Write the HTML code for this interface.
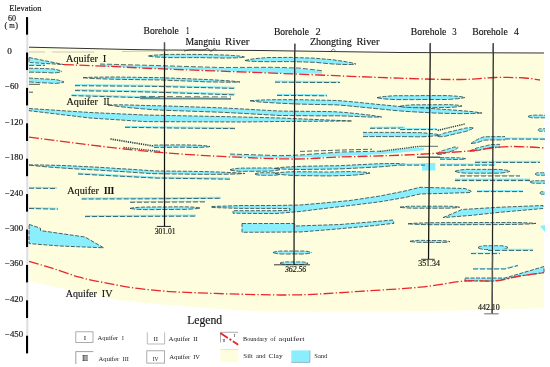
<!DOCTYPE html>
<html><head><meta charset="utf-8"><style>
html,body{margin:0;padding:0;background:#fff;}
svg{display:block;}
text{font-family:"Liberation Serif",serif;fill:#111;stroke:#111;stroke-width:0.15px;}
text.sm{stroke-width:0;fill:#222;}
</style></head><body>
<svg width="550" height="367" viewBox="0 0 550 367">
<rect width="550" height="367" fill="#fff"/>
<path d="M29,47.2 L130,49.5 L165,50 L260,50.5 L295,51 L400,52.5 L544,53 L544.0,308.3 C540.0,308.4 530.7,308.5 520.0,308.8 C509.3,309.1 496.7,309.6 480.0,310.0 C463.3,310.4 440.0,311.0 420.0,311.3 C400.0,311.6 385.0,311.6 360.0,311.6 C335.0,311.6 290.0,311.7 270.0,311.5 C250.0,311.3 250.0,311.0 240.0,310.5 C230.0,310.0 220.0,309.3 210.0,308.5 C200.0,307.7 190.0,306.5 180.0,305.7 C170.0,304.9 160.0,304.4 150.0,303.5 C140.0,302.6 128.3,301.6 120.0,300.3 C111.7,299.0 109.2,297.4 100.0,295.5 C90.8,293.6 74.8,290.9 65.0,289.0 C55.2,287.1 47.0,285.4 41.0,284.0 C35.0,282.6 31.0,281.2 29.0,280.6 Z" fill="#FEFEDE"/>
<polygon points="29.0,57.5 64.0,64.6 29.0,62.5" fill="#8AEEFC"/>
<polygon points="29.0,57.5 64.0,64.6 29.0,62.5" fill="none" stroke="#34484b" stroke-width="0.85" stroke-dasharray="4 1.5"/>
<polygon points="29.0,68.2 30.4,68.3 31.8,68.3 33.1,68.3 34.5,68.4 35.9,68.4 37.3,68.4 38.6,68.4 40.0,68.5 41.4,68.5 42.8,68.5 44.1,68.5 45.5,68.6 46.9,68.7 48.3,68.7 49.6,68.8 51.0,68.9 52.4,69.0 53.8,69.1 55.1,69.3 56.5,69.6 57.9,70.0 59.3,70.3 60.6,70.8 62.0,71.5 62.0,71.5 60.6,72.1 59.3,72.3 57.9,72.5 56.5,72.7 55.1,72.8 53.8,73.0 52.4,72.9 51.0,72.8 49.6,72.7 48.3,72.6 46.9,72.6 45.5,72.5 44.1,72.4 42.8,72.4 41.4,72.4 40.0,72.4 38.6,72.3 37.3,72.3 35.9,72.3 34.5,72.3 33.1,72.2 31.8,72.2 30.4,72.2 29.0,72.2" fill="#8AEEFC"/>
<polyline points="29.0,68.2 30.4,68.3 31.8,68.3 33.1,68.3 34.5,68.4 35.9,68.4 37.3,68.4 38.6,68.4 40.0,68.5 41.4,68.5 42.8,68.5 44.1,68.5 45.5,68.6 46.9,68.7 48.3,68.7 49.6,68.8 51.0,68.9 52.4,69.0 53.8,69.1 55.1,69.3 56.5,69.6 57.9,70.0 59.3,70.3 60.6,70.8 62.0,71.5" fill="none" stroke="#34484b" stroke-width="0.85" stroke-dasharray="4 1.5"/>
<polyline points="29.0,72.2 30.4,72.2 31.8,72.2 33.1,72.2 34.5,72.3 35.9,72.3 37.3,72.3 38.6,72.3 40.0,72.4 41.4,72.4 42.8,72.4 44.1,72.4 45.5,72.5 46.9,72.6 48.3,72.6 49.6,72.7 51.0,72.8 52.4,72.9 53.8,73.0 55.1,72.8 56.5,72.7 57.9,72.5 59.3,72.3 60.6,72.1 62.0,71.5" fill="none" stroke="#34484b" stroke-width="0.85" stroke-dasharray="5 1.5"/>
<polyline points="29.0,64.8 45.0,64.8" fill="none" stroke="#8AEEFC" stroke-width="1.2"/>
<polyline points="29.0,65.4 45.0,65.4" fill="none" stroke="#34484b" stroke-width="0.85" stroke-dasharray="5 2"/>
<line x1="29" y1="84.3" x2="40" y2="84.3" stroke="#34484b" stroke-width="0.9"/>
<line x1="29" y1="92.2" x2="33" y2="92.2" stroke="#34484b" stroke-width="0.9"/>
<polygon points="29.0,78.0 30.5,78.1 31.9,78.2 33.4,78.3 34.8,78.4 36.3,78.5 37.8,78.5 39.2,78.6 40.7,78.7 42.1,78.8 43.6,78.9 45.0,79.0 46.5,79.0 48.0,79.1 49.4,79.2 50.9,79.3 52.3,79.4 53.8,79.5 55.2,79.5 56.7,79.8 58.2,80.1 59.6,80.5 61.1,80.8 62.5,81.3 64.0,82.0 64.0,82.0 62.5,82.6 61.1,82.8 59.6,83.0 58.2,83.2 56.7,83.3 55.2,83.5 53.8,83.4 52.3,83.3 50.9,83.2 49.4,83.1 48.0,83.0 46.5,83.0 45.0,82.9 43.6,82.8 42.1,82.7 40.7,82.6 39.2,82.5 37.8,82.5 36.3,82.4 34.8,82.3 33.4,82.2 31.9,82.1 30.5,82.0 29.0,82.0" fill="#8AEEFC"/>
<polyline points="29.0,78.0 30.5,78.1 31.9,78.2 33.4,78.3 34.8,78.4 36.3,78.5 37.8,78.5 39.2,78.6 40.7,78.7 42.1,78.8 43.6,78.9 45.0,79.0 46.5,79.0 48.0,79.1 49.4,79.2 50.9,79.3 52.3,79.4 53.8,79.5 55.2,79.5 56.7,79.8 58.2,80.1 59.6,80.5 61.1,80.8 62.5,81.3 64.0,82.0" fill="none" stroke="#34484b" stroke-width="0.85" stroke-dasharray="4 1.5"/>
<polyline points="29.0,82.0 30.5,82.0 31.9,82.1 33.4,82.2 34.8,82.3 36.3,82.4 37.8,82.5 39.2,82.5 40.7,82.6 42.1,82.7 43.6,82.8 45.0,82.9 46.5,83.0 48.0,83.0 49.4,83.1 50.9,83.2 52.3,83.3 53.8,83.4 55.2,83.5 56.7,83.3 58.2,83.2 59.6,83.0 61.1,82.8 62.5,82.6 64.0,82.0" fill="none" stroke="#34484b" stroke-width="0.85" stroke-dasharray="5 1.5"/>
<polygon points="83.0,77.7 89.5,77.3 96.1,77.2 102.6,77.1 109.2,77.0 115.7,77.0 122.3,77.1 128.8,77.2 135.4,77.3 141.9,77.4 148.4,77.5 155.0,77.6 161.5,77.7 168.1,78.0 174.6,78.2 181.1,78.5 187.7,78.7 194.2,79.0 200.8,79.3 207.3,79.5 213.8,79.9 220.4,80.3 226.9,80.7 233.5,81.2 240.0,82.0 240.0,82.0 233.5,82.2 226.9,82.2 220.4,82.1 213.8,82.0 207.3,81.9 200.8,81.6 194.2,81.3 187.7,81.1 181.1,80.8 174.6,80.6 168.1,80.3 161.5,80.0 155.0,79.9 148.4,79.8 141.9,79.7 135.4,79.6 128.8,79.5 122.3,79.4 115.7,79.3 109.2,79.1 102.6,78.9 96.1,78.6 89.5,78.3 83.0,77.7" fill="#8AEEFC"/>
<polyline points="83.0,77.7 89.5,77.3 96.1,77.2 102.6,77.1 109.2,77.0 115.7,77.0 122.3,77.1 128.8,77.2 135.4,77.3 141.9,77.4 148.4,77.5 155.0,77.6 161.5,77.7 168.1,78.0 174.6,78.2 181.1,78.5 187.7,78.7 194.2,79.0 200.8,79.3 207.3,79.5 213.8,79.9 220.4,80.3 226.9,80.7 233.5,81.2 240.0,82.0" fill="none" stroke="#34484b" stroke-width="0.85" stroke-dasharray="4 1.5"/>
<polyline points="83.0,77.7 89.5,78.3 96.1,78.6 102.6,78.9 109.2,79.1 115.7,79.3 122.3,79.4 128.8,79.5 135.4,79.6 141.9,79.7 148.4,79.8 155.0,79.9 161.5,80.0 168.1,80.3 174.6,80.6 181.1,80.8 187.7,81.1 194.2,81.3 200.8,81.6 207.3,81.9 213.8,82.0 220.4,82.1 226.9,82.2 233.5,82.2 240.0,82.0" fill="none" stroke="#34484b" stroke-width="0.85" stroke-dasharray="5 1.5"/>
<polyline points="75.0,85.1 150.0,85.7 235.0,87.8" fill="none" stroke="#8AEEFC" stroke-width="2.0"/>
<polyline points="75.0,85.7 150.0,86.3 235.0,88.4" fill="none" stroke="#34484b" stroke-width="0.85" stroke-dasharray="5 2"/>
<polyline points="75.0,90.0 150.0,91.4 235.0,94.3" fill="none" stroke="#8AEEFC" stroke-width="2.0"/>
<polyline points="75.0,90.6 150.0,92.0 235.0,94.9" fill="none" stroke="#34484b" stroke-width="0.85" stroke-dasharray="5 2"/>
<polyline points="71.6,95.0 140.0,97.0 160.0,97.4" fill="none" stroke="#8AEEFC" stroke-width="1.8"/>
<polyline points="71.6,95.6 140.0,97.6 160.0,98.0" fill="none" stroke="#34484b" stroke-width="0.85" stroke-dasharray="5 2"/>
<polyline points="140,98.3 200,98.5 231,98.8" fill="none" stroke="#5f8a8e" stroke-width="1.8"/>
<polyline points="140,96.4 231,96.9" fill="none" stroke="#34484b" stroke-width="0.7" stroke-dasharray="6 3"/>
<polygon points="148.5,56.0 152.5,55.3 156.5,55.0 160.5,54.8 164.5,54.6 168.5,54.4 172.5,54.4 176.5,54.4 180.5,54.4 184.5,54.4 188.5,54.4 192.5,54.4 196.5,54.4 200.5,54.5 204.5,54.5 208.5,54.6 212.5,54.7 216.5,54.8 220.5,54.9 224.5,55.0 228.5,55.2 232.5,55.5 236.5,55.8 240.5,56.2 244.5,57.0 244.5,57.0 240.5,57.6 236.5,57.8 232.5,57.9 228.5,58.0 224.5,58.1 220.5,58.0 216.5,57.9 212.5,57.8 208.5,57.8 204.5,57.7 200.5,57.6 196.5,57.6 192.5,57.6 188.5,57.6 184.5,57.6 180.5,57.6 176.5,57.6 172.5,57.6 168.5,57.6 164.5,57.4 160.5,57.2 156.5,57.0 152.5,56.7 148.5,56.0" fill="#8AEEFC"/>
<polyline points="148.5,56.0 152.5,55.3 156.5,55.0 160.5,54.8 164.5,54.6 168.5,54.4 172.5,54.4 176.5,54.4 180.5,54.4 184.5,54.4 188.5,54.4 192.5,54.4 196.5,54.4 200.5,54.5 204.5,54.5 208.5,54.6 212.5,54.7 216.5,54.8 220.5,54.9 224.5,55.0 228.5,55.2 232.5,55.5 236.5,55.8 240.5,56.2 244.5,57.0" fill="none" stroke="#34484b" stroke-width="0.85" stroke-dasharray="4 1.5"/>
<polyline points="148.5,56.0 152.5,56.7 156.5,57.0 160.5,57.2 164.5,57.4 168.5,57.6 172.5,57.6 176.5,57.6 180.5,57.6 184.5,57.6 188.5,57.6 192.5,57.6 196.5,57.6 200.5,57.6 204.5,57.7 208.5,57.8 212.5,57.8 216.5,57.9 220.5,58.0 224.5,58.1 228.5,58.0 232.5,57.9 236.5,57.8 240.5,57.6 244.5,57.0" fill="none" stroke="#34484b" stroke-width="0.85" stroke-dasharray="5 1.5"/>
<polygon points="245.0,60.5 249.6,59.4 254.3,58.8 258.9,58.3 263.5,57.9 268.1,57.5 272.8,57.5 277.4,57.5 282.0,57.5 286.7,57.4 291.3,57.4 295.9,57.6 300.6,57.7 305.2,57.9 309.8,58.0 314.5,58.2 319.1,58.6 323.7,59.0 328.3,59.4 332.9,59.8 337.5,60.5 342.2,61.1 346.8,61.9 351.4,62.7 356.0,64.0 356.0,64.0 351.4,64.5 346.8,64.5 342.2,64.4 337.5,64.2 332.9,64.0 328.3,63.6 323.7,63.2 319.1,62.7 314.5,62.3 309.8,62.2 305.2,62.0 300.6,61.9 295.9,61.7 291.3,61.6 286.7,61.6 282.0,61.6 277.4,61.6 272.8,61.7 268.1,61.7 263.5,61.6 258.9,61.6 254.3,61.4 249.6,61.2 245.0,60.5" fill="#8AEEFC"/>
<polyline points="245.0,60.5 249.6,59.4 254.3,58.8 258.9,58.3 263.5,57.9 268.1,57.5 272.8,57.5 277.4,57.5 282.0,57.5 286.7,57.4 291.3,57.4 295.9,57.6 300.6,57.7 305.2,57.9 309.8,58.0 314.5,58.2 319.1,58.6 323.7,59.0 328.3,59.4 332.9,59.8 337.5,60.5 342.2,61.1 346.8,61.9 351.4,62.7 356.0,64.0" fill="none" stroke="#34484b" stroke-width="0.85" stroke-dasharray="4 1.5"/>
<polyline points="245.0,60.5 249.6,61.2 254.3,61.4 258.9,61.6 263.5,61.6 268.1,61.7 272.8,61.7 277.4,61.6 282.0,61.6 286.7,61.6 291.3,61.6 295.9,61.7 300.6,61.9 305.2,62.0 309.8,62.2 314.5,62.3 319.1,62.7 323.7,63.2 328.3,63.6 332.9,64.0 337.5,64.2 342.2,64.4 346.8,64.5 351.4,64.5 356.0,64.0" fill="none" stroke="#34484b" stroke-width="0.85" stroke-dasharray="5 1.5"/>
<polygon points="100.0,64.2 155.0,65.8 220.0,67.8 275.0,67.6 300.0,68.4 322.0,71.0 322.0,73.8 280.0,73.2 220.0,70.8 155.0,68.4 100.0,66.3" fill="#8AEEFC"/>
<polyline points="100,64 155,65.5 220,67.5 275,67.3 300,68.1 322,70.7" fill="none" stroke="#34484b" stroke-width="0.8" stroke-dasharray="5 2"/>
<polyline points="275.0,81.6 340.0,82.0" fill="none" stroke="#8AEEFC" stroke-width="2.0"/>
<polyline points="275.0,82.2 340.0,82.6" fill="none" stroke="#34484b" stroke-width="0.85" stroke-dasharray="5 2"/>
<polyline points="277.0,94.8 327.0,95.2" fill="none" stroke="#8AEEFC" stroke-width="2.0"/>
<polyline points="277.0,95.4 327.0,95.8" fill="none" stroke="#34484b" stroke-width="0.85" stroke-dasharray="5 2"/>
<polygon points="250.0,100.8 259.7,100.1 269.4,99.8 279.0,99.7 288.7,99.7 298.4,99.7 308.1,99.9 317.8,100.1 327.5,100.3 337.1,100.5 346.8,101.3 356.4,102.2 366.1,103.2 375.7,104.2 385.3,105.1 395.0,106.1 404.6,106.9 414.3,107.4 424.0,108.0 433.6,108.6 443.3,109.4 453.0,110.0 462.6,110.8 472.3,111.6 482.0,113.0 482.0,113.0 472.3,113.5 462.6,113.6 453.0,113.5 443.3,113.3 433.6,113.0 424.0,112.4 414.3,111.9 404.6,111.3 395.0,110.5 385.3,109.5 375.7,108.6 366.1,107.6 356.4,106.7 346.8,105.7 337.1,104.9 327.5,104.7 317.8,104.5 308.1,104.3 298.4,104.1 288.7,103.6 279.0,103.2 269.4,102.6 259.7,102.0 250.0,100.8" fill="#8AEEFC"/>
<polyline points="250.0,100.8 259.7,100.1 269.4,99.8 279.0,99.7 288.7,99.7 298.4,99.7 308.1,99.9 317.8,100.1 327.5,100.3 337.1,100.5 346.8,101.3 356.4,102.2 366.1,103.2 375.7,104.2 385.3,105.1 395.0,106.1 404.6,106.9 414.3,107.4 424.0,108.0 433.6,108.6 443.3,109.4 453.0,110.0 462.6,110.8 472.3,111.6 482.0,113.0" fill="none" stroke="#34484b" stroke-width="0.85" stroke-dasharray="4 1.5"/>
<polyline points="250.0,100.8 259.7,102.0 269.4,102.6 279.0,103.2 288.7,103.6 298.4,104.1 308.1,104.3 317.8,104.5 327.5,104.7 337.1,104.9 346.8,105.7 356.4,106.7 366.1,107.6 375.7,108.6 385.3,109.5 395.0,110.5 404.6,111.3 414.3,111.9 424.0,112.4 433.6,113.0 443.3,113.3 453.0,113.5 462.6,113.6 472.3,113.5 482.0,113.0" fill="none" stroke="#34484b" stroke-width="0.85" stroke-dasharray="5 1.5"/>
<polygon points="377.0,97.7 380.7,96.9 384.3,96.5 388.0,96.2 391.7,95.9 395.3,95.7 399.0,95.7 402.7,95.7 406.3,95.7 410.0,95.7 413.7,95.7 417.3,95.7 421.0,95.6 424.7,95.6 428.3,95.6 432.0,95.6 435.7,95.6 439.3,95.6 443.0,95.6 446.7,95.6 450.3,95.8 454.0,96.0 457.7,96.3 461.3,96.7 465.0,97.5 465.0,97.5 461.3,98.3 457.7,98.7 454.0,99.0 450.3,99.3 446.7,99.5 443.0,99.5 439.3,99.5 435.7,99.5 432.0,99.5 428.3,99.5 424.7,99.5 421.0,99.5 417.3,99.6 413.7,99.6 410.0,99.6 406.3,99.6 402.7,99.6 399.0,99.6 395.3,99.6 391.7,99.4 388.0,99.2 384.3,98.9 380.7,98.5 377.0,97.7" fill="#8AEEFC"/>
<polyline points="377.0,97.7 380.7,96.9 384.3,96.5 388.0,96.2 391.7,95.9 395.3,95.7 399.0,95.7 402.7,95.7 406.3,95.7 410.0,95.7 413.7,95.7 417.3,95.7 421.0,95.6 424.7,95.6 428.3,95.6 432.0,95.6 435.7,95.6 439.3,95.6 443.0,95.6 446.7,95.6 450.3,95.8 454.0,96.0 457.7,96.3 461.3,96.7 465.0,97.5" fill="none" stroke="#34484b" stroke-width="0.85" stroke-dasharray="4 1.5"/>
<polyline points="377.0,97.7 380.7,98.5 384.3,98.9 388.0,99.2 391.7,99.4 395.3,99.6 399.0,99.6 402.7,99.6 406.3,99.6 410.0,99.6 413.7,99.6 417.3,99.6 421.0,99.5 424.7,99.5 428.3,99.5 432.0,99.5 435.7,99.5 439.3,99.5 443.0,99.5 446.7,99.5 450.3,99.3 454.0,99.0 457.7,98.7 461.3,98.3 465.0,97.5" fill="none" stroke="#34484b" stroke-width="0.85" stroke-dasharray="5 1.5"/>
<polygon points="400.0,106.3 402.6,105.7 405.2,105.4 407.8,105.2 410.3,105.0 412.9,104.8 415.5,104.8 418.1,104.8 420.7,104.8 423.2,104.8 425.8,104.7 428.4,104.7 431.0,104.7 433.6,104.7 436.2,104.7 438.8,104.7 441.3,104.7 443.9,104.7 446.5,104.6 449.1,104.6 451.7,104.8 454.2,104.9 456.8,105.1 459.4,105.4 462.0,106.0 462.0,106.0 459.4,106.6 456.8,106.9 454.2,107.1 451.7,107.3 449.1,107.5 446.5,107.5 443.9,107.5 441.3,107.5 438.8,107.5 436.2,107.6 433.6,107.6 431.0,107.6 428.4,107.6 425.8,107.6 423.2,107.6 420.7,107.6 418.1,107.6 415.5,107.7 412.9,107.7 410.3,107.5 407.8,107.4 405.2,107.2 402.6,106.9 400.0,106.3" fill="#8AEEFC"/>
<polyline points="400.0,106.3 402.6,105.7 405.2,105.4 407.8,105.2 410.3,105.0 412.9,104.8 415.5,104.8 418.1,104.8 420.7,104.8 423.2,104.8 425.8,104.7 428.4,104.7 431.0,104.7 433.6,104.7 436.2,104.7 438.8,104.7 441.3,104.7 443.9,104.7 446.5,104.6 449.1,104.6 451.7,104.8 454.2,104.9 456.8,105.1 459.4,105.4 462.0,106.0" fill="none" stroke="#34484b" stroke-width="0.85" stroke-dasharray="4 1.5"/>
<polyline points="400.0,106.3 402.6,106.9 405.2,107.2 407.8,107.4 410.3,107.5 412.9,107.7 415.5,107.7 418.1,107.6 420.7,107.6 423.2,107.6 425.8,107.6 428.4,107.6 431.0,107.6 433.6,107.6 436.2,107.6 438.8,107.5 441.3,107.5 443.9,107.5 446.5,107.5 449.1,107.5 451.7,107.3 454.2,107.1 456.8,106.9 459.4,106.6 462.0,106.0" fill="none" stroke="#34484b" stroke-width="0.85" stroke-dasharray="5 1.5"/>
<polygon points="108.0,105.0 119.4,104.8 130.8,105.0 142.2,105.4 153.6,105.7 165.1,105.9 176.5,106.3 187.9,106.7 199.3,107.1 210.8,107.5 222.2,107.9 233.6,108.5 245.0,109.1 256.4,109.8 267.8,110.4 279.2,111.0 290.7,111.2 302.1,111.3 313.5,111.4 325.0,111.5 336.4,111.8 347.8,112.7 359.2,113.9 370.6,115.2 382.0,117.0 382.0,117.0 370.6,117.1 359.2,116.6 347.8,116.1 336.4,115.8 325.0,115.9 313.5,115.8 302.1,115.7 290.7,115.6 279.2,115.5 267.8,114.8 256.4,114.2 245.0,113.5 233.6,112.9 222.2,112.3 210.8,111.9 199.3,111.5 187.9,111.1 176.5,110.7 165.1,110.3 153.6,109.7 142.2,108.8 130.8,107.8 119.4,106.6 108.0,105.0" fill="#8AEEFC"/>
<polyline points="108.0,105.0 119.4,104.8 130.8,105.0 142.2,105.4 153.6,105.7 165.1,105.9 176.5,106.3 187.9,106.7 199.3,107.1 210.8,107.5 222.2,107.9 233.6,108.5 245.0,109.1 256.4,109.8 267.8,110.4 279.2,111.0 290.7,111.2 302.1,111.3 313.5,111.4 325.0,111.5 336.4,111.8 347.8,112.7 359.2,113.9 370.6,115.2 382.0,117.0" fill="none" stroke="#34484b" stroke-width="0.85" stroke-dasharray="4 1.5"/>
<polyline points="108.0,105.0 119.4,106.6 130.8,107.8 142.2,108.8 153.6,109.7 165.1,110.3 176.5,110.7 187.9,111.1 199.3,111.5 210.8,111.9 222.2,112.3 233.6,112.9 245.0,113.5 256.4,114.2 267.8,114.8 279.2,115.5 290.7,115.6 302.1,115.7 313.5,115.8 325.0,115.9 336.4,115.8 347.8,116.1 359.2,116.6 370.6,117.1 382.0,117.0" fill="none" stroke="#34484b" stroke-width="0.85" stroke-dasharray="5 1.5"/>
<polygon points="29.0,108.5 90.0,112.5 145.0,115.0 242.0,117.0 280.0,118.0 352.0,121.0 280.0,121.5 242.0,122.0 145.0,121.6 90.0,118.0 29.0,110.7" fill="#8AEEFC"/>
<polygon points="29.0,108.5 90.0,112.5 145.0,115.0 242.0,117.0 280.0,118.0 352.0,121.0 280.0,121.5 242.0,122.0 145.0,121.6 90.0,118.0 29.0,110.7" fill="none" stroke="#34484b" stroke-width="0.85" stroke-dasharray="4 1.5"/>
<polygon points="528.0,116.5 528.7,116.1 529.4,115.8 530.1,115.6 530.8,115.5 531.5,115.3 532.2,115.2 533.0,115.2 533.7,115.2 534.4,115.2 535.1,115.2 535.8,115.2 536.5,115.2 537.2,115.2 537.9,115.2 538.6,115.2 539.3,115.2 540.0,115.2 540.8,115.2 541.5,115.2 542.2,115.2 542.9,115.2 543.6,115.2 544.3,115.2 545.0,115.2 545.0,117.8 544.3,117.8 543.6,117.8 542.9,117.8 542.2,117.8 541.5,117.8 540.8,117.8 540.0,117.8 539.3,117.8 538.6,117.8 537.9,117.8 537.2,117.8 536.5,117.8 535.8,117.8 535.1,117.8 534.4,117.8 533.7,117.8 533.0,117.8 532.2,117.8 531.5,117.7 530.8,117.5 530.1,117.4 529.4,117.2 528.7,116.9 528.0,116.5" fill="#8AEEFC"/>
<polyline points="528.0,116.5 528.7,116.1 529.4,115.8 530.1,115.6 530.8,115.5 531.5,115.3 532.2,115.2 533.0,115.2 533.7,115.2 534.4,115.2 535.1,115.2 535.8,115.2 536.5,115.2 537.2,115.2 537.9,115.2 538.6,115.2 539.3,115.2 540.0,115.2 540.8,115.2 541.5,115.2 542.2,115.2 542.9,115.2 543.6,115.2 544.3,115.2 545.0,115.2" fill="none" stroke="#34484b" stroke-width="0.85" stroke-dasharray="4 1.5"/>
<polyline points="528.0,116.5 528.7,116.9 529.4,117.2 530.1,117.4 530.8,117.5 531.5,117.7 532.2,117.8 533.0,117.8 533.7,117.8 534.4,117.8 535.1,117.8 535.8,117.8 536.5,117.8 537.2,117.8 537.9,117.8 538.6,117.8 539.3,117.8 540.0,117.8 540.8,117.8 541.5,117.8 542.2,117.8 542.9,117.8 543.6,117.8 544.3,117.8 545.0,117.8" fill="none" stroke="#34484b" stroke-width="0.85" stroke-dasharray="5 1.5"/>
<polyline points="125.0,126.7 180.0,127.5 235.0,128.0" fill="none" stroke="#8AEEFC" stroke-width="2.0"/>
<polyline points="125.0,127.3 180.0,128.1 235.0,128.6" fill="none" stroke="#34484b" stroke-width="0.85" stroke-dasharray="5 2"/>
<polyline points="110.4,139 157,146.6" fill="none" stroke="#34484b" stroke-width="1.7" stroke-dasharray="1.3 0.9"/>
<polygon points="154.0,145.1 156.3,145.1 158.7,145.1 161.0,145.0 163.3,145.0 165.7,145.0 168.0,145.0 170.3,144.9 172.7,144.9 175.0,144.9 177.3,144.9 179.7,144.8 182.0,144.9 184.3,144.9 186.7,144.9 189.0,145.0 191.3,145.0 193.7,145.1 196.0,145.1 198.3,145.3 200.7,145.4 203.0,145.6 205.3,145.8 207.7,146.1 210.0,146.5 210.0,146.5 207.7,146.9 205.3,147.0 203.0,147.2 200.7,147.3 198.3,147.4 196.0,147.4 193.7,147.4 191.3,147.4 189.0,147.3 186.7,147.3 184.3,147.2 182.0,147.2 179.7,147.2 177.3,147.2 175.0,147.2 172.7,147.3 170.3,147.3 168.0,147.3 165.7,147.3 163.3,147.4 161.0,147.4 158.7,147.4 156.3,147.4 154.0,147.5" fill="#8AEEFC"/>
<polyline points="154.0,145.1 156.3,145.1 158.7,145.1 161.0,145.0 163.3,145.0 165.7,145.0 168.0,145.0 170.3,144.9 172.7,144.9 175.0,144.9 177.3,144.9 179.7,144.8 182.0,144.9 184.3,144.9 186.7,144.9 189.0,145.0 191.3,145.0 193.7,145.1 196.0,145.1 198.3,145.3 200.7,145.4 203.0,145.6 205.3,145.8 207.7,146.1 210.0,146.5" fill="none" stroke="#34484b" stroke-width="0.85" stroke-dasharray="4 1.5"/>
<polyline points="154.0,147.5 156.3,147.4 158.7,147.4 161.0,147.4 163.3,147.4 165.7,147.3 168.0,147.3 170.3,147.3 172.7,147.3 175.0,147.2 177.3,147.2 179.7,147.2 182.0,147.2 184.3,147.2 186.7,147.3 189.0,147.3 191.3,147.4 193.7,147.4 196.0,147.4 198.3,147.4 200.7,147.3 203.0,147.2 205.3,147.0 207.7,146.9 210.0,146.5" fill="none" stroke="#34484b" stroke-width="0.85" stroke-dasharray="5 1.5"/>
<polyline points="123.5,147.4 160,151.4" fill="none" stroke="#34484b" stroke-width="1.3" stroke-dasharray="1.3 0.9"/>
<polygon points="29.0,165.0 38.0,164.9 47.0,165.1 56.0,165.3 65.0,165.6 74.0,166.0 83.0,166.5 92.0,166.9 101.0,167.4 110.0,168.0 119.0,168.6 127.9,169.1 136.9,169.7 145.9,170.3 154.9,170.9 163.9,171.0 172.9,171.1 181.9,171.2 190.9,171.3 200.0,171.5 209.0,171.7 218.0,172.0 227.0,172.4 236.0,172.8 245.0,173.5 245.0,173.5 236.0,174.0 227.0,174.2 218.0,174.3 209.0,174.3 200.0,174.3 190.9,174.2 181.9,174.1 172.9,174.0 163.9,173.8 154.9,173.7 145.9,173.2 136.9,172.6 127.9,172.0 119.0,171.4 110.0,170.9 101.0,170.3 92.0,169.8 83.0,169.3 74.0,168.8 65.0,168.2 56.0,167.6 47.0,166.9 38.0,166.1 29.0,165.0" fill="#8AEEFC"/>
<polyline points="29.0,165.0 38.0,164.9 47.0,165.1 56.0,165.3 65.0,165.6 74.0,166.0 83.0,166.5 92.0,166.9 101.0,167.4 110.0,168.0 119.0,168.6 127.9,169.1 136.9,169.7 145.9,170.3 154.9,170.9 163.9,171.0 172.9,171.1 181.9,171.2 190.9,171.3 200.0,171.5 209.0,171.7 218.0,172.0 227.0,172.4 236.0,172.8 245.0,173.5" fill="none" stroke="#34484b" stroke-width="0.85" stroke-dasharray="4 1.5"/>
<polyline points="29.0,165.0 38.0,166.1 47.0,166.9 56.0,167.6 65.0,168.2 74.0,168.8 83.0,169.3 92.0,169.8 101.0,170.3 110.0,170.9 119.0,171.4 127.9,172.0 136.9,172.6 145.9,173.2 154.9,173.7 163.9,173.8 172.9,174.0 181.9,174.1 190.9,174.2 200.0,174.3 209.0,174.3 218.0,174.3 227.0,174.2 236.0,174.0 245.0,173.5" fill="none" stroke="#34484b" stroke-width="0.85" stroke-dasharray="5 1.5"/>
<polyline points="78.0,173.4 155.0,177.4 230.0,178.6" fill="none" stroke="#8AEEFC" stroke-width="2.0"/>
<polyline points="78.0,174.0 155.0,178.0 230.0,179.2" fill="none" stroke="#34484b" stroke-width="0.85" stroke-dasharray="5 2"/>
<polygon points="230.0,154.3 280.0,156.0 300.0,155.3 340.0,152.3 380.0,151.4 419.0,147.6 424.0,147.8 424.0,150.3 400.0,152.6 380.0,154.2 340.0,156.2 280.0,158.3 230.0,156.3" fill="#8AEEFC"/>
<polyline points="230,154 280,155.7 300,155 340,152 380,151.2" fill="none" stroke="#34484b" stroke-width="0.85" stroke-dasharray="5 2"/>
<polyline points="380,151.4 419,146.4" fill="none" stroke="#34484b" stroke-width="1.4" stroke-dasharray="1.3 0.9"/>
<polyline points="419,146.3 438,146.3" fill="none" stroke="#34484b" stroke-width="0.8"/>
<polyline points="300.0,151.4 340.0,150.1 372.0,149.2" fill="none" stroke="#34484b" stroke-width="0.85" stroke-dasharray="5 2"/>
<polygon points="230.0,169.8 232.1,169.1 234.2,168.8 236.2,168.5 238.3,168.3 240.4,168.1 242.5,168.1 244.6,168.1 246.7,168.1 248.8,168.1 250.8,168.1 252.9,168.0 255.0,168.0 257.1,168.0 259.2,168.0 261.2,168.0 263.3,168.0 265.4,168.0 267.5,167.9 269.6,167.9 271.7,168.1 273.8,168.3 275.8,168.5 277.9,168.8 280.0,169.5 280.0,169.5 277.9,170.2 275.8,170.5 273.8,170.8 271.7,171.0 269.6,171.2 267.5,171.2 265.4,171.2 263.3,171.2 261.2,171.2 259.2,171.2 257.1,171.3 255.0,171.3 252.9,171.3 250.8,171.3 248.8,171.3 246.7,171.3 244.6,171.3 242.5,171.4 240.4,171.4 238.3,171.2 236.2,171.0 234.2,170.8 232.1,170.5 230.0,169.8" fill="#8AEEFC"/>
<polyline points="230.0,169.8 232.1,169.1 234.2,168.8 236.2,168.5 238.3,168.3 240.4,168.1 242.5,168.1 244.6,168.1 246.7,168.1 248.8,168.1 250.8,168.1 252.9,168.0 255.0,168.0 257.1,168.0 259.2,168.0 261.2,168.0 263.3,168.0 265.4,168.0 267.5,167.9 269.6,167.9 271.7,168.1 273.8,168.3 275.8,168.5 277.9,168.8 280.0,169.5" fill="none" stroke="#34484b" stroke-width="0.85" stroke-dasharray="4 1.5"/>
<polyline points="230.0,169.8 232.1,170.5 234.2,170.8 236.2,171.0 238.3,171.2 240.4,171.4 242.5,171.4 244.6,171.3 246.7,171.3 248.8,171.3 250.8,171.3 252.9,171.3 255.0,171.3 257.1,171.3 259.2,171.2 261.2,171.2 263.3,171.2 265.4,171.2 267.5,171.2 269.6,171.2 271.7,171.0 273.8,170.8 275.8,170.5 277.9,170.2 280.0,169.5" fill="none" stroke="#34484b" stroke-width="0.85" stroke-dasharray="5 1.5"/>
<polygon points="255.0,174.0 256.0,173.4 257.1,173.2 258.1,173.0 259.2,172.8 260.2,172.7 261.2,172.7 262.3,172.7 263.3,172.7 264.4,172.7 265.4,172.7 266.5,172.7 267.5,172.7 268.5,172.7 269.6,172.7 270.6,172.7 271.7,172.7 272.7,172.7 273.8,172.7 274.8,172.7 275.8,172.8 276.9,173.0 277.9,173.2 279.0,173.4 280.0,174.0 280.0,174.0 279.0,174.6 277.9,174.8 276.9,175.0 275.8,175.2 274.8,175.3 273.8,175.3 272.7,175.3 271.7,175.3 270.6,175.3 269.6,175.3 268.5,175.3 267.5,175.3 266.5,175.3 265.4,175.3 264.4,175.3 263.3,175.3 262.3,175.3 261.2,175.3 260.2,175.3 259.2,175.2 258.1,175.0 257.1,174.8 256.0,174.6 255.0,174.0" fill="#8AEEFC"/>
<polyline points="255.0,174.0 256.0,173.4 257.1,173.2 258.1,173.0 259.2,172.8 260.2,172.7 261.2,172.7 262.3,172.7 263.3,172.7 264.4,172.7 265.4,172.7 266.5,172.7 267.5,172.7 268.5,172.7 269.6,172.7 270.6,172.7 271.7,172.7 272.7,172.7 273.8,172.7 274.8,172.7 275.8,172.8 276.9,173.0 277.9,173.2 279.0,173.4 280.0,174.0" fill="none" stroke="#34484b" stroke-width="0.85" stroke-dasharray="4 1.5"/>
<polyline points="255.0,174.0 256.0,174.6 257.1,174.8 258.1,175.0 259.2,175.2 260.2,175.3 261.2,175.3 262.3,175.3 263.3,175.3 264.4,175.3 265.4,175.3 266.5,175.3 267.5,175.3 268.5,175.3 269.6,175.3 270.6,175.3 271.7,175.3 272.7,175.3 273.8,175.3 274.8,175.3 275.8,175.2 276.9,175.0 277.9,174.8 279.0,174.6 280.0,174.0" fill="none" stroke="#34484b" stroke-width="0.85" stroke-dasharray="5 1.5"/>
<polyline points="370.0,127.7 405.0,127.5" fill="none" stroke="#8AEEFC" stroke-width="2.0"/>
<polyline points="370.0,128.3 405.0,128.1" fill="none" stroke="#34484b" stroke-width="0.85" stroke-dasharray="5 2"/>
<polygon points="363.0,132.4 366.2,132.4 369.4,132.4 372.6,132.4 375.8,132.4 379.0,132.4 382.3,132.4 385.5,132.4 388.7,132.4 391.9,132.4 395.1,132.4 398.3,132.4 401.5,132.4 404.7,132.5 407.9,132.5 411.1,132.6 414.3,132.6 417.5,132.6 420.8,132.7 424.0,132.9 427.2,133.2 430.4,133.5 433.6,133.8 436.8,134.3 440.0,135.0 440.0,135.0 436.8,135.7 433.6,136.0 430.4,136.3 427.2,136.5 424.0,136.7 420.8,136.8 417.5,136.8 414.3,136.8 411.1,136.7 407.9,136.7 404.7,136.6 401.5,136.6 398.3,136.6 395.1,136.6 391.9,136.6 388.7,136.6 385.5,136.6 382.3,136.6 379.0,136.6 375.8,136.6 372.6,136.6 369.4,136.6 366.2,136.6 363.0,136.6" fill="#8AEEFC"/>
<polyline points="363.0,132.4 366.2,132.4 369.4,132.4 372.6,132.4 375.8,132.4 379.0,132.4 382.3,132.4 385.5,132.4 388.7,132.4 391.9,132.4 395.1,132.4 398.3,132.4 401.5,132.4 404.7,132.5 407.9,132.5 411.1,132.6 414.3,132.6 417.5,132.6 420.8,132.7 424.0,132.9 427.2,133.2 430.4,133.5 433.6,133.8 436.8,134.3 440.0,135.0" fill="none" stroke="#34484b" stroke-width="0.85" stroke-dasharray="4 1.5"/>
<polyline points="363.0,136.6 366.2,136.6 369.4,136.6 372.6,136.6 375.8,136.6 379.0,136.6 382.3,136.6 385.5,136.6 388.7,136.6 391.9,136.6 395.1,136.6 398.3,136.6 401.5,136.6 404.7,136.6 407.9,136.7 411.1,136.7 414.3,136.8 417.5,136.8 420.8,136.8 424.0,136.7 427.2,136.5 430.4,136.3 433.6,136.0 436.8,135.7 440.0,135.0" fill="none" stroke="#34484b" stroke-width="0.85" stroke-dasharray="5 1.5"/>
<polygon points="275.0,168.3 280.4,167.5 285.8,167.1 291.3,166.8 296.7,166.5 302.1,166.3 307.5,166.2 312.9,166.1 318.4,166.0 323.8,165.9 329.2,165.8 334.6,165.8 340.0,165.7 345.5,165.4 350.9,165.1 356.3,164.8 361.7,164.6 367.1,164.3 372.5,164.0 377.9,163.8 383.3,163.6 388.8,163.6 394.2,163.5 399.6,163.6 405.0,164.0 405.0,164.0 399.6,165.0 394.2,165.6 388.8,166.1 383.3,166.6 377.9,167.0 372.5,167.3 367.1,167.5 361.7,167.8 356.3,168.1 350.9,168.4 345.5,168.6 340.0,168.9 334.6,169.0 329.2,169.1 323.8,169.2 318.4,169.3 312.9,169.3 307.5,169.4 302.1,169.5 296.7,169.4 291.3,169.3 285.8,169.2 280.4,168.9 275.0,168.3" fill="#8AEEFC"/>
<polyline points="275.0,168.3 280.4,167.5 285.8,167.1 291.3,166.8 296.7,166.5 302.1,166.3 307.5,166.2 312.9,166.1 318.4,166.0 323.8,165.9 329.2,165.8 334.6,165.8 340.0,165.7 345.5,165.4 350.9,165.1 356.3,164.8 361.7,164.6 367.1,164.3 372.5,164.0 377.9,163.8 383.3,163.6 388.8,163.6 394.2,163.5 399.6,163.6 405.0,164.0" fill="none" stroke="#34484b" stroke-width="0.85" stroke-dasharray="4 1.5"/>
<polyline points="275.0,168.3 280.4,168.9 285.8,169.2 291.3,169.3 296.7,169.4 302.1,169.5 307.5,169.4 312.9,169.3 318.4,169.3 323.8,169.2 329.2,169.1 334.6,169.0 340.0,168.9 345.5,168.6 350.9,168.4 356.3,168.1 361.7,167.8 367.1,167.5 372.5,167.3 377.9,167.0 383.3,166.6 388.8,166.1 394.2,165.6 399.6,165.0 405.0,164.0" fill="none" stroke="#34484b" stroke-width="0.85" stroke-dasharray="5 1.5"/>
<polygon points="275.0,173.4 279.0,172.6 282.9,172.3 286.9,172.0 290.8,171.8 294.8,171.7 298.8,171.7 302.7,171.8 306.7,171.8 310.6,171.8 314.6,171.9 318.5,171.9 322.5,172.0 326.5,172.0 330.4,172.0 334.4,171.9 338.3,171.8 342.3,171.7 346.3,171.6 350.2,171.6 354.2,171.6 358.1,171.8 362.1,172.0 366.0,172.3 370.0,173.0 370.0,173.0 366.0,173.9 362.1,174.4 358.1,174.8 354.2,175.1 350.2,175.4 346.3,175.5 342.3,175.6 338.3,175.7 334.4,175.8 330.4,175.9 326.5,175.9 322.5,175.9 318.5,175.8 314.6,175.8 310.6,175.7 306.7,175.7 302.7,175.7 298.8,175.6 294.8,175.6 290.8,175.3 286.9,175.0 282.9,174.7 279.0,174.3 275.0,173.4" fill="#8AEEFC"/>
<polyline points="275.0,173.4 279.0,172.6 282.9,172.3 286.9,172.0 290.8,171.8 294.8,171.7 298.8,171.7 302.7,171.8 306.7,171.8 310.6,171.8 314.6,171.9 318.5,171.9 322.5,172.0 326.5,172.0 330.4,172.0 334.4,171.9 338.3,171.8 342.3,171.7 346.3,171.6 350.2,171.6 354.2,171.6 358.1,171.8 362.1,172.0 366.0,172.3 370.0,173.0" fill="none" stroke="#34484b" stroke-width="0.85" stroke-dasharray="4 1.5"/>
<polyline points="275.0,173.4 279.0,174.3 282.9,174.7 286.9,175.0 290.8,175.3 294.8,175.6 298.8,175.6 302.7,175.7 306.7,175.7 310.6,175.7 314.6,175.8 318.5,175.8 322.5,175.9 326.5,175.9 330.4,175.9 334.4,175.8 338.3,175.7 342.3,175.6 346.3,175.5 350.2,175.4 354.2,175.1 358.1,174.8 362.1,174.4 366.0,173.9 370.0,173.0" fill="none" stroke="#34484b" stroke-width="0.85" stroke-dasharray="5 1.5"/>
<polyline points="400.0,129.0 437.0,129.0" fill="none" stroke="#8AEEFC" stroke-width="2.0"/>
<polyline points="400.0,129.6 437.0,129.6" fill="none" stroke="#34484b" stroke-width="0.85" stroke-dasharray="5 2"/>
<polyline points="437.7,130.4 465,124" fill="none" stroke="#34484b" stroke-width="1.5" stroke-dasharray="1.3 0.9"/>
<polygon points="437.7,136.3 439.2,135.2 440.7,134.6 442.1,133.9 443.6,133.4 445.1,132.9 446.6,132.5 448.1,132.2 449.5,131.8 451.0,131.5 452.5,131.2 454.0,130.8 455.4,130.5 456.9,130.1 458.4,129.8 459.9,129.4 461.4,129.1 462.8,128.7 464.3,128.4 465.8,128.0 467.3,127.9 468.8,127.7 470.2,127.6 471.7,127.6 473.2,128.0 473.2,128.0 471.7,129.1 470.2,129.7 468.8,130.4 467.3,130.9 465.8,131.4 464.3,131.8 462.8,132.1 461.4,132.5 459.9,132.8 458.4,133.1 456.9,133.5 455.4,133.8 454.0,134.2 452.5,134.5 451.0,134.9 449.5,135.2 448.1,135.6 446.6,135.9 445.1,136.3 443.6,136.4 442.1,136.6 440.7,136.7 439.2,136.7 437.7,136.3" fill="#8AEEFC"/>
<polyline points="437.7,136.3 439.2,135.2 440.7,134.6 442.1,133.9 443.6,133.4 445.1,132.9 446.6,132.5 448.1,132.2 449.5,131.8 451.0,131.5 452.5,131.2 454.0,130.8 455.4,130.5 456.9,130.1 458.4,129.8 459.9,129.4 461.4,129.1 462.8,128.7 464.3,128.4 465.8,128.0 467.3,127.9 468.8,127.7 470.2,127.6 471.7,127.6 473.2,128.0" fill="none" stroke="#34484b" stroke-width="0.85" stroke-dasharray="4 1.5"/>
<polyline points="437.7,136.3 439.2,136.7 440.7,136.7 442.1,136.6 443.6,136.4 445.1,136.3 446.6,135.9 448.1,135.6 449.5,135.2 451.0,134.9 452.5,134.5 454.0,134.2 455.4,133.8 456.9,133.5 458.4,133.1 459.9,132.8 461.4,132.5 462.8,132.1 464.3,131.8 465.8,131.4 467.3,130.9 468.8,130.4 470.2,129.7 471.7,129.1 473.2,128.0" fill="none" stroke="#34484b" stroke-width="0.85" stroke-dasharray="5 1.5"/>
<polygon points="538.0,130.0 538.3,129.6 538.6,129.3 538.9,129.1 539.2,129.0 539.5,128.8 539.8,128.7 540.0,128.7 540.3,128.7 540.6,128.7 540.9,128.7 541.2,128.7 541.5,128.7 541.8,128.7 542.1,128.7 542.4,128.7 542.7,128.7 543.0,128.7 543.2,128.7 543.5,128.7 543.8,128.7 544.1,128.7 544.4,128.7 544.7,128.7 545.0,128.7 545.0,131.3 544.7,131.3 544.4,131.3 544.1,131.3 543.8,131.3 543.5,131.3 543.2,131.3 543.0,131.3 542.7,131.3 542.4,131.3 542.1,131.3 541.8,131.3 541.5,131.3 541.2,131.3 540.9,131.3 540.6,131.3 540.3,131.3 540.0,131.3 539.8,131.3 539.5,131.2 539.2,131.0 538.9,130.9 538.6,130.7 538.3,130.4 538.0,130.0" fill="#8AEEFC"/>
<polyline points="538.0,130.0 538.3,129.6 538.6,129.3 538.9,129.1 539.2,129.0 539.5,128.8 539.8,128.7 540.0,128.7 540.3,128.7 540.6,128.7 540.9,128.7 541.2,128.7 541.5,128.7 541.8,128.7 542.1,128.7 542.4,128.7 542.7,128.7 543.0,128.7 543.2,128.7 543.5,128.7 543.8,128.7 544.1,128.7 544.4,128.7 544.7,128.7 545.0,128.7" fill="none" stroke="#34484b" stroke-width="0.85" stroke-dasharray="4 1.5"/>
<polyline points="538.0,130.0 538.3,130.4 538.6,130.7 538.9,130.9 539.2,131.0 539.5,131.2 539.8,131.3 540.0,131.3 540.3,131.3 540.6,131.3 540.9,131.3 541.2,131.3 541.5,131.3 541.8,131.3 542.1,131.3 542.4,131.3 542.7,131.3 543.0,131.3 543.2,131.3 543.5,131.3 543.8,131.3 544.1,131.3 544.4,131.3 544.7,131.3 545.0,131.3" fill="none" stroke="#34484b" stroke-width="0.85" stroke-dasharray="5 1.5"/>
<polygon points="437.0,154.0 437.9,153.0 438.8,152.4 439.6,151.9 440.5,151.5 441.4,151.0 442.2,150.8 443.1,150.5 444.0,150.2 444.9,149.9 445.8,149.7 446.6,149.4 447.5,149.1 448.4,148.9 449.2,148.6 450.1,148.3 451.0,148.0 451.9,147.8 452.8,147.5 453.6,147.2 454.5,147.1 455.4,147.1 456.2,147.0 457.1,147.1 458.0,147.5 458.0,147.5 457.1,148.5 456.2,149.1 455.4,149.6 454.5,150.0 453.6,150.5 452.8,150.8 451.9,151.0 451.0,151.3 450.1,151.6 449.2,151.8 448.4,152.1 447.5,152.4 446.6,152.6 445.8,152.9 444.9,153.2 444.0,153.5 443.1,153.7 442.2,154.0 441.4,154.3 440.5,154.4 439.6,154.4 438.8,154.5 437.9,154.4 437.0,154.0" fill="#8AEEFC"/>
<polyline points="437.0,154.0 437.9,153.0 438.8,152.4 439.6,151.9 440.5,151.5 441.4,151.0 442.2,150.8 443.1,150.5 444.0,150.2 444.9,149.9 445.8,149.7 446.6,149.4 447.5,149.1 448.4,148.9 449.2,148.6 450.1,148.3 451.0,148.0 451.9,147.8 452.8,147.5 453.6,147.2 454.5,147.1 455.4,147.1 456.2,147.0 457.1,147.1 458.0,147.5" fill="none" stroke="#34484b" stroke-width="0.85" stroke-dasharray="4 1.5"/>
<polyline points="437.0,154.0 437.9,154.4 438.8,154.5 439.6,154.4 440.5,154.4 441.4,154.3 442.2,154.0 443.1,153.7 444.0,153.5 444.9,153.2 445.8,152.9 446.6,152.6 447.5,152.4 448.4,152.1 449.2,151.8 450.1,151.6 451.0,151.3 451.9,151.0 452.8,150.8 453.6,150.5 454.5,150.0 455.4,149.6 456.2,149.1 457.1,148.5 458.0,147.5" fill="none" stroke="#34484b" stroke-width="0.85" stroke-dasharray="5 1.5"/>
<polygon points="471.0,143.5 472.4,142.4 473.7,141.6 475.1,140.8 476.4,140.0 477.8,139.3 479.1,138.6 480.5,138.1 481.9,137.6 483.2,137.0 484.6,136.7 486.1,136.7 487.5,136.7 489.0,136.7 490.4,136.6 491.9,136.6 493.3,136.6 494.8,136.6 496.3,136.6 497.7,136.6 499.2,136.6 500.6,136.6 502.1,136.5 503.5,136.5 505.0,136.5 505.0,139.9 503.5,139.9 502.1,139.9 500.6,139.9 499.2,139.9 497.7,140.0 496.3,140.0 494.8,140.0 493.3,140.0 491.9,140.0 490.4,140.0 489.0,140.0 487.5,140.1 486.1,140.1 484.6,140.1 483.2,140.4 481.9,140.9 480.5,141.5 479.1,142.0 477.8,142.4 476.4,142.7 475.1,143.0 473.7,143.3 472.4,143.5 471.0,143.5" fill="#8AEEFC"/>
<polyline points="471.0,143.5 472.4,142.4 473.7,141.6 475.1,140.8 476.4,140.0 477.8,139.3 479.1,138.6 480.5,138.1 481.9,137.6 483.2,137.0 484.6,136.7 486.1,136.7 487.5,136.7 489.0,136.7 490.4,136.6 491.9,136.6 493.3,136.6 494.8,136.6 496.3,136.6 497.7,136.6 499.2,136.6 500.6,136.6 502.1,136.5 503.5,136.5 505.0,136.5" fill="none" stroke="#34484b" stroke-width="0.85" stroke-dasharray="4 1.5"/>
<polyline points="471.0,143.5 472.4,143.5 473.7,143.3 475.1,143.0 476.4,142.7 477.8,142.4 479.1,142.0 480.5,141.5 481.9,140.9 483.2,140.4 484.6,140.1 486.1,140.1 487.5,140.1 489.0,140.0 490.4,140.0 491.9,140.0 493.3,140.0 494.8,140.0 496.3,140.0 497.7,140.0 499.2,139.9 500.6,139.9 502.1,139.9 503.5,139.9 505.0,139.9" fill="none" stroke="#34484b" stroke-width="0.85" stroke-dasharray="5 1.5"/>
<polyline points="505.0,138.4 545.0,138.6" fill="none" stroke="#8AEEFC" stroke-width="1.6"/>
<polyline points="505.0,139.0 545.0,139.2" fill="none" stroke="#34484b" stroke-width="0.85" stroke-dasharray="5 2"/>
<polygon points="470.0,151.0 471.2,150.2 472.5,149.7 473.7,149.2 475.0,148.7 476.2,148.2 477.4,147.8 478.7,147.5 479.9,147.2 481.2,146.9 482.4,146.6 483.6,146.3 484.9,146.0 486.1,145.7 487.4,145.4 488.6,145.1 489.8,144.8 491.1,144.6 492.4,144.5 493.6,144.5 494.9,144.5 496.2,144.5 497.5,144.4 498.7,144.4 500.0,144.4 500.0,147.2 498.7,147.3 497.5,147.3 496.2,147.3 494.9,147.3 493.6,147.4 492.4,147.4 491.1,147.4 489.8,147.7 488.6,148.0 487.4,148.3 486.1,148.6 484.9,148.9 483.6,149.2 482.4,149.5 481.2,149.8 479.9,150.1 478.7,150.4 477.4,150.7 476.2,150.8 475.0,150.9 473.7,151.1 472.5,151.1 471.2,151.2 470.0,151.0" fill="#8AEEFC"/>
<polyline points="470.0,151.0 471.2,150.2 472.5,149.7 473.7,149.2 475.0,148.7 476.2,148.2 477.4,147.8 478.7,147.5 479.9,147.2 481.2,146.9 482.4,146.6 483.6,146.3 484.9,146.0 486.1,145.7 487.4,145.4 488.6,145.1 489.8,144.8 491.1,144.6 492.4,144.5 493.6,144.5 494.9,144.5 496.2,144.5 497.5,144.4 498.7,144.4 500.0,144.4" fill="none" stroke="#34484b" stroke-width="0.85" stroke-dasharray="4 1.5"/>
<polyline points="470.0,151.0 471.2,151.2 472.5,151.1 473.7,151.1 475.0,150.9 476.2,150.8 477.4,150.7 478.7,150.4 479.9,150.1 481.2,149.8 482.4,149.5 483.6,149.2 484.9,148.9 486.1,148.6 487.4,148.3 488.6,148.0 489.8,147.7 491.1,147.4 492.4,147.4 493.6,147.4 494.9,147.3 496.2,147.3 497.5,147.3 498.7,147.3 500.0,147.2" fill="none" stroke="#34484b" stroke-width="0.85" stroke-dasharray="5 1.5"/>
<line x1="417" y1="157.2" x2="440" y2="157.2" stroke="#34484b" stroke-width="1.3"/>
<polygon points="440.0,157.6 441.1,157.6 442.2,157.6 443.2,157.6 444.3,157.6 445.4,157.6 446.5,157.7 447.6,157.7 448.7,157.7 449.8,157.7 450.8,157.7 451.9,157.7 453.0,157.8 454.1,157.8 455.2,157.8 456.2,157.8 457.3,157.8 458.4,157.8 459.5,157.9 460.6,158.0 461.7,158.1 462.8,158.2 463.8,158.3 464.9,158.5 466.0,158.8 466.0,158.8 464.9,159.1 463.8,159.2 462.8,159.3 461.7,159.4 460.6,159.5 459.5,159.5 458.4,159.5 457.3,159.5 456.2,159.5 455.2,159.5 454.1,159.5 453.0,159.4 451.9,159.4 450.8,159.4 449.8,159.4 448.7,159.4 447.6,159.4 446.5,159.3 445.4,159.3 444.3,159.3 443.2,159.3 442.2,159.3 441.1,159.3 440.0,159.2" fill="#8AEEFC"/>
<polyline points="440.0,157.6 441.1,157.6 442.2,157.6 443.2,157.6 444.3,157.6 445.4,157.6 446.5,157.7 447.6,157.7 448.7,157.7 449.8,157.7 450.8,157.7 451.9,157.7 453.0,157.8 454.1,157.8 455.2,157.8 456.2,157.8 457.3,157.8 458.4,157.8 459.5,157.9 460.6,158.0 461.7,158.1 462.8,158.2 463.8,158.3 464.9,158.5 466.0,158.8" fill="none" stroke="#34484b" stroke-width="0.85" stroke-dasharray="4 1.5"/>
<polyline points="440.0,159.2 441.1,159.3 442.2,159.3 443.2,159.3 444.3,159.3 445.4,159.3 446.5,159.3 447.6,159.4 448.7,159.4 449.8,159.4 450.8,159.4 451.9,159.4 453.0,159.4 454.1,159.5 455.2,159.5 456.2,159.5 457.3,159.5 458.4,159.5 459.5,159.5 460.6,159.5 461.7,159.4 462.8,159.3 463.8,159.2 464.9,159.1 466.0,158.8" fill="none" stroke="#34484b" stroke-width="0.85" stroke-dasharray="5 1.5"/>
<polyline points="475.0,161.8 540.0,161.8" fill="none" stroke="#8AEEFC" stroke-width="2.0"/>
<polyline points="475.0,162.4 540.0,162.4" fill="none" stroke="#34484b" stroke-width="0.85" stroke-dasharray="5 2"/>
<rect x="422" y="163" width="13.4" height="7.5" fill="#8AEEFC"/>
<polyline points="400.0,164.5 425.0,164.5" fill="none" stroke="#8AEEFC" stroke-width="2.0"/>
<polyline points="400.0,165.1 425.0,165.1" fill="none" stroke="#34484b" stroke-width="0.85" stroke-dasharray="5 2"/>
<polyline points="440.0,164.5 495.0,164.5" fill="none" stroke="#8AEEFC" stroke-width="2.0"/>
<polyline points="440.0,165.1 495.0,165.1" fill="none" stroke="#34484b" stroke-width="0.85" stroke-dasharray="5 2"/>
<polygon points="455.0,171.3 457.3,170.5 459.6,170.1 461.9,169.8 464.2,169.6 466.5,169.4 468.8,169.4 471.0,169.4 473.3,169.4 475.6,169.4 477.9,169.4 480.2,169.4 482.5,169.4 484.8,169.4 487.1,169.4 489.4,169.4 491.7,169.4 494.0,169.4 496.2,169.4 498.5,169.4 500.8,169.6 503.1,169.8 505.4,170.1 507.7,170.5 510.0,171.3 510.0,171.3 507.7,172.1 505.4,172.5 503.1,172.8 500.8,173.0 498.5,173.2 496.2,173.2 494.0,173.2 491.7,173.2 489.4,173.2 487.1,173.2 484.8,173.2 482.5,173.2 480.2,173.2 477.9,173.2 475.6,173.2 473.3,173.2 471.0,173.2 468.8,173.2 466.5,173.2 464.2,173.0 461.9,172.8 459.6,172.5 457.3,172.1 455.0,171.3" fill="#8AEEFC"/>
<polyline points="455.0,171.3 457.3,170.5 459.6,170.1 461.9,169.8 464.2,169.6 466.5,169.4 468.8,169.4 471.0,169.4 473.3,169.4 475.6,169.4 477.9,169.4 480.2,169.4 482.5,169.4 484.8,169.4 487.1,169.4 489.4,169.4 491.7,169.4 494.0,169.4 496.2,169.4 498.5,169.4 500.8,169.6 503.1,169.8 505.4,170.1 507.7,170.5 510.0,171.3" fill="none" stroke="#34484b" stroke-width="0.85" stroke-dasharray="4 1.5"/>
<polyline points="455.0,171.3 457.3,172.1 459.6,172.5 461.9,172.8 464.2,173.0 466.5,173.2 468.8,173.2 471.0,173.2 473.3,173.2 475.6,173.2 477.9,173.2 480.2,173.2 482.5,173.2 484.8,173.2 487.1,173.2 489.4,173.2 491.7,173.2 494.0,173.2 496.2,173.2 498.5,173.2 500.8,173.0 503.1,172.8 505.4,172.5 507.7,172.1 510.0,171.3" fill="none" stroke="#34484b" stroke-width="0.85" stroke-dasharray="5 1.5"/>
<polyline points="460.0,175.4 520.0,175.4" fill="none" stroke="#8AEEFC" stroke-width="1.0"/>
<polyline points="460.0,176.0 520.0,176.0" fill="none" stroke="#34484b" stroke-width="0.85" stroke-dasharray="5 2"/>
<polyline points="455.0,179.5 530.0,179.5" fill="none" stroke="#8AEEFC" stroke-width="2.0"/>
<polyline points="455.0,180.1 530.0,180.1" fill="none" stroke="#34484b" stroke-width="0.85" stroke-dasharray="5 2"/>
<polygon points="535.0,174.0 535.4,173.6 535.8,173.3 536.2,173.1 536.7,173.0 537.1,172.8 537.5,172.7 537.9,172.7 538.3,172.7 538.8,172.7 539.2,172.7 539.6,172.7 540.0,172.7 540.4,172.7 540.8,172.7 541.2,172.7 541.7,172.7 542.1,172.7 542.5,172.7 542.9,172.7 543.3,172.7 543.8,172.7 544.2,172.7 544.6,172.7 545.0,172.7 545.0,175.3 544.6,175.3 544.2,175.3 543.8,175.3 543.3,175.3 542.9,175.3 542.5,175.3 542.1,175.3 541.7,175.3 541.2,175.3 540.8,175.3 540.4,175.3 540.0,175.3 539.6,175.3 539.2,175.3 538.8,175.3 538.3,175.3 537.9,175.3 537.5,175.3 537.1,175.2 536.7,175.0 536.2,174.9 535.8,174.7 535.4,174.4 535.0,174.0" fill="#8AEEFC"/>
<polyline points="535.0,174.0 535.4,173.6 535.8,173.3 536.2,173.1 536.7,173.0 537.1,172.8 537.5,172.7 537.9,172.7 538.3,172.7 538.8,172.7 539.2,172.7 539.6,172.7 540.0,172.7 540.4,172.7 540.8,172.7 541.2,172.7 541.7,172.7 542.1,172.7 542.5,172.7 542.9,172.7 543.3,172.7 543.8,172.7 544.2,172.7 544.6,172.7 545.0,172.7" fill="none" stroke="#34484b" stroke-width="0.85" stroke-dasharray="4 1.5"/>
<polyline points="535.0,174.0 535.4,174.4 535.8,174.7 536.2,174.9 536.7,175.0 537.1,175.2 537.5,175.3 537.9,175.3 538.3,175.3 538.8,175.3 539.2,175.3 539.6,175.3 540.0,175.3 540.4,175.3 540.8,175.3 541.2,175.3 541.7,175.3 542.1,175.3 542.5,175.3 542.9,175.3 543.3,175.3 543.8,175.3 544.2,175.3 544.6,175.3 545.0,175.3" fill="none" stroke="#34484b" stroke-width="0.85" stroke-dasharray="5 1.5"/>
<polygon points="530.0,182.0 530.6,181.6 531.2,181.3 531.9,181.1 532.5,181.0 533.1,180.8 533.8,180.7 534.4,180.7 535.0,180.7 535.6,180.7 536.2,180.7 536.9,180.7 537.5,180.7 538.1,180.7 538.8,180.7 539.4,180.7 540.0,180.7 540.6,180.7 541.2,180.7 541.9,180.7 542.5,180.7 543.1,180.7 543.8,180.7 544.4,180.7 545.0,180.7 545.0,183.3 544.4,183.3 543.8,183.3 543.1,183.3 542.5,183.3 541.9,183.3 541.2,183.3 540.6,183.3 540.0,183.3 539.4,183.3 538.8,183.3 538.1,183.3 537.5,183.3 536.9,183.3 536.2,183.3 535.6,183.3 535.0,183.3 534.4,183.3 533.8,183.3 533.1,183.2 532.5,183.0 531.9,182.9 531.2,182.7 530.6,182.4 530.0,182.0" fill="#8AEEFC"/>
<polyline points="530.0,182.0 530.6,181.6 531.2,181.3 531.9,181.1 532.5,181.0 533.1,180.8 533.8,180.7 534.4,180.7 535.0,180.7 535.6,180.7 536.2,180.7 536.9,180.7 537.5,180.7 538.1,180.7 538.8,180.7 539.4,180.7 540.0,180.7 540.6,180.7 541.2,180.7 541.9,180.7 542.5,180.7 543.1,180.7 543.8,180.7 544.4,180.7 545.0,180.7" fill="none" stroke="#34484b" stroke-width="0.85" stroke-dasharray="4 1.5"/>
<polyline points="530.0,182.0 530.6,182.4 531.2,182.7 531.9,182.9 532.5,183.0 533.1,183.2 533.8,183.3 534.4,183.3 535.0,183.3 535.6,183.3 536.2,183.3 536.9,183.3 537.5,183.3 538.1,183.3 538.8,183.3 539.4,183.3 540.0,183.3 540.6,183.3 541.2,183.3 541.9,183.3 542.5,183.3 543.1,183.3 543.8,183.3 544.4,183.3 545.0,183.3" fill="none" stroke="#34484b" stroke-width="0.85" stroke-dasharray="5 1.5"/>
<polyline points="29.0,187.6 57.0,187.9" fill="none" stroke="#8AEEFC" stroke-width="1.6"/>
<polyline points="29.0,188.2 57.0,188.5" fill="none" stroke="#34484b" stroke-width="0.85" stroke-dasharray="5 2"/>
<polyline points="81.7,198.4 155.0,198.2 221.0,197.7" fill="none" stroke="#8AEEFC" stroke-width="2.0"/>
<polyline points="81.7,199.0 155.0,198.8 221.0,198.3" fill="none" stroke="#34484b" stroke-width="0.85" stroke-dasharray="5 2"/>
<polyline points="130.0,201.7 205.0,201.3" fill="none" stroke="#8AEEFC" stroke-width="1.2"/>
<polyline points="130.0,202.3 205.0,201.9" fill="none" stroke="#34484b" stroke-width="0.85" stroke-dasharray="5 2"/>
<polygon points="130.0,208.4 132.9,207.8 135.8,207.6 138.8,207.3 141.7,207.2 144.6,207.0 147.5,207.0 150.4,207.0 153.3,207.0 156.2,206.9 159.2,206.9 162.1,206.9 165.0,206.9 167.9,206.9 170.8,206.9 173.8,206.8 176.7,206.8 179.6,206.8 182.5,206.8 185.4,206.8 188.3,206.9 191.2,207.0 194.2,207.2 197.1,207.5 200.0,208.0 200.0,208.0 197.1,208.6 194.2,208.8 191.2,209.1 188.3,209.2 185.4,209.4 182.5,209.4 179.6,209.4 176.7,209.4 173.8,209.5 170.8,209.5 167.9,209.5 165.0,209.5 162.1,209.5 159.2,209.5 156.2,209.6 153.3,209.6 150.4,209.6 147.5,209.6 144.6,209.6 141.7,209.5 138.8,209.4 135.8,209.2 132.9,208.9 130.0,208.4" fill="#8AEEFC"/>
<polyline points="130.0,208.4 132.9,207.8 135.8,207.6 138.8,207.3 141.7,207.2 144.6,207.0 147.5,207.0 150.4,207.0 153.3,207.0 156.2,206.9 159.2,206.9 162.1,206.9 165.0,206.9 167.9,206.9 170.8,206.9 173.8,206.8 176.7,206.8 179.6,206.8 182.5,206.8 185.4,206.8 188.3,206.9 191.2,207.0 194.2,207.2 197.1,207.5 200.0,208.0" fill="none" stroke="#34484b" stroke-width="0.85" stroke-dasharray="4 1.5"/>
<polyline points="130.0,208.4 132.9,208.9 135.8,209.2 138.8,209.4 141.7,209.5 144.6,209.6 147.5,209.6 150.4,209.6 153.3,209.6 156.2,209.6 159.2,209.5 162.1,209.5 165.0,209.5 167.9,209.5 170.8,209.5 173.8,209.5 176.7,209.4 179.6,209.4 182.5,209.4 185.4,209.4 188.3,209.2 191.2,209.1 194.2,208.8 197.1,208.6 200.0,208.0" fill="none" stroke="#34484b" stroke-width="0.85" stroke-dasharray="5 1.5"/>
<polyline points="29.0,207.9 58.0,208.6" fill="none" stroke="#8AEEFC" stroke-width="1.8"/>
<polyline points="29.0,208.5 58.0,209.2" fill="none" stroke="#34484b" stroke-width="0.85" stroke-dasharray="5 2"/>
<polyline points="85.0,216.0 196.0,215.5" fill="none" stroke="#8AEEFC" stroke-width="2.0"/>
<polyline points="85.0,216.6 196.0,216.1" fill="none" stroke="#34484b" stroke-width="0.85" stroke-dasharray="5 2"/>
<polygon points="29.0,224.4 40.5,228.2 40.5,230.6 85.0,237.0 91.0,240.5 103.7,247.8 60.0,246.0 29.0,243.6" fill="#8AEEFC"/>
<polygon points="29.0,224.4 40.5,228.2 40.5,230.6 85.0,237.0 91.0,240.5 103.7,247.8 60.0,246.0 29.0,243.6" fill="none" stroke="#34484b" stroke-width="0.85" stroke-dasharray="4 1.5"/>
<polygon points="211.5,206.5 240.0,205.6 275.0,205.5 300.0,205.0 320.0,203.3 350.0,200.5 380.0,196.0 405.0,191.0 420.0,187.3 465.0,188.5 471.0,191.0 471.0,192.5 440.0,193.5 420.0,194.0 405.0,197.5 380.0,201.8 350.0,205.5 320.0,209.0 300.0,211.5 275.0,213.6 233.0,213.2 233.0,210.7 275.0,210.7 290.0,210.3 290.0,208.6 275.0,208.4 240.0,208.4 211.5,207.5" fill="#8AEEFC"/>
<polygon points="211.5,206.5 240.0,205.6 275.0,205.5 300.0,205.0 320.0,203.3 350.0,200.5 380.0,196.0 405.0,191.0 420.0,187.3 465.0,188.5 471.0,191.0 471.0,192.5 440.0,193.5 420.0,194.0 405.0,197.5 380.0,201.8 350.0,205.5 320.0,209.0 300.0,211.5 275.0,213.6 233.0,213.2 233.0,210.7 275.0,210.7 290.0,210.3 290.0,208.6 275.0,208.4 240.0,208.4 211.5,207.5" fill="none" stroke="#34484b" stroke-width="0.85" stroke-dasharray="4 1.5"/>
<polygon points="242.0,223.5 294.0,223.5 296.0,226.0 340.0,224.5 370.0,222.0 393.0,220.0 394.0,223.3 370.0,226.0 330.0,229.6 300.0,232.0 242.0,232.3" fill="#8AEEFC"/>
<polygon points="242.0,223.5 294.0,223.5 296.0,226.0 340.0,224.5 370.0,222.0 393.0,220.0 394.0,223.3 370.0,226.0 330.0,229.6 300.0,232.0 242.0,232.3" fill="none" stroke="#34484b" stroke-width="0.85" stroke-dasharray="4 1.5"/>
<polygon points="273.0,252.5 274.6,251.9 276.2,251.6 277.8,251.3 279.4,251.2 281.1,251.0 282.7,251.0 284.3,251.0 285.9,251.0 287.5,251.0 289.1,251.0 290.7,251.0 292.4,251.0 294.0,251.0 295.6,251.0 297.2,251.0 298.8,251.0 300.4,251.0 302.0,251.0 303.6,251.0 305.2,251.2 306.9,251.3 308.5,251.6 310.1,251.9 311.7,252.5 311.7,252.5 310.1,253.1 308.5,253.4 306.9,253.7 305.2,253.8 303.6,254.0 302.0,254.0 300.4,254.0 298.8,254.0 297.2,254.0 295.6,254.0 294.0,254.0 292.4,254.0 290.7,254.0 289.1,254.0 287.5,254.0 285.9,254.0 284.3,254.0 282.7,254.0 281.1,254.0 279.4,253.8 277.8,253.7 276.2,253.4 274.6,253.1 273.0,252.5" fill="#8AEEFC"/>
<polyline points="273.0,252.5 274.6,251.9 276.2,251.6 277.8,251.3 279.4,251.2 281.1,251.0 282.7,251.0 284.3,251.0 285.9,251.0 287.5,251.0 289.1,251.0 290.7,251.0 292.4,251.0 294.0,251.0 295.6,251.0 297.2,251.0 298.8,251.0 300.4,251.0 302.0,251.0 303.6,251.0 305.2,251.2 306.9,251.3 308.5,251.6 310.1,251.9 311.7,252.5" fill="none" stroke="#34484b" stroke-width="0.85" stroke-dasharray="4 1.5"/>
<polyline points="273.0,252.5 274.6,253.1 276.2,253.4 277.8,253.7 279.4,253.8 281.1,254.0 282.7,254.0 284.3,254.0 285.9,254.0 287.5,254.0 289.1,254.0 290.7,254.0 292.4,254.0 294.0,254.0 295.6,254.0 297.2,254.0 298.8,254.0 300.4,254.0 302.0,254.0 303.6,254.0 305.2,253.8 306.9,253.7 308.5,253.4 310.1,253.1 311.7,252.5" fill="none" stroke="#34484b" stroke-width="0.85" stroke-dasharray="5 1.5"/>
<polygon points="280.0,263.2 281.2,262.6 282.3,262.4 283.5,262.2 284.7,262.0 285.8,261.9 287.0,261.9 288.2,261.9 289.3,261.9 290.5,261.9 291.7,261.9 292.8,261.9 294.0,261.9 295.2,261.9 296.3,261.9 297.5,261.9 298.7,261.9 299.8,261.9 301.0,261.9 302.2,261.9 303.3,262.0 304.5,262.2 305.7,262.4 306.8,262.6 308.0,263.2 308.0,263.2 306.8,263.8 305.7,264.0 304.5,264.2 303.3,264.4 302.2,264.5 301.0,264.5 299.8,264.5 298.7,264.5 297.5,264.5 296.3,264.5 295.2,264.5 294.0,264.5 292.8,264.5 291.7,264.5 290.5,264.5 289.3,264.5 288.2,264.5 287.0,264.5 285.8,264.5 284.7,264.4 283.5,264.2 282.3,264.0 281.2,263.8 280.0,263.2" fill="#8AEEFC"/>
<polyline points="280.0,263.2 281.2,262.6 282.3,262.4 283.5,262.2 284.7,262.0 285.8,261.9 287.0,261.9 288.2,261.9 289.3,261.9 290.5,261.9 291.7,261.9 292.8,261.9 294.0,261.9 295.2,261.9 296.3,261.9 297.5,261.9 298.7,261.9 299.8,261.9 301.0,261.9 302.2,261.9 303.3,262.0 304.5,262.2 305.7,262.4 306.8,262.6 308.0,263.2" fill="none" stroke="#34484b" stroke-width="0.85" stroke-dasharray="4 1.5"/>
<polyline points="280.0,263.2 281.2,263.8 282.3,264.0 283.5,264.2 284.7,264.4 285.8,264.5 287.0,264.5 288.2,264.5 289.3,264.5 290.5,264.5 291.7,264.5 292.8,264.5 294.0,264.5 295.2,264.5 296.3,264.5 297.5,264.5 298.7,264.5 299.8,264.5 301.0,264.5 302.2,264.5 303.3,264.4 304.5,264.2 305.7,264.0 306.8,263.8 308.0,263.2" fill="none" stroke="#34484b" stroke-width="0.85" stroke-dasharray="5 1.5"/>
<line x1="274" y1="264.8" x2="310" y2="264.8" stroke="#222" stroke-width="0.9"/>
<polyline points="455.0,180.0 530.0,180.0" fill="none" stroke="#8AEEFC" stroke-width="1.0"/>
<polyline points="455.0,180.6 530.0,180.6" fill="none" stroke="#34484b" stroke-width="0.85" stroke-dasharray="5 2"/>
<polyline points="477.0,191.0 523.0,191.0" fill="none" stroke="#8AEEFC" stroke-width="2.0"/>
<polyline points="477.0,191.6 523.0,191.6" fill="none" stroke="#34484b" stroke-width="0.85" stroke-dasharray="5 2"/>
<polygon points="540.0,193.0 540.2,192.6 540.4,192.3 540.6,192.1 540.8,192.0 541.0,191.8 541.2,191.7 541.5,191.7 541.7,191.7 541.9,191.7 542.1,191.7 542.3,191.7 542.5,191.7 542.7,191.7 542.9,191.7 543.1,191.7 543.3,191.7 543.5,191.7 543.8,191.7 544.0,191.7 544.2,191.7 544.4,191.7 544.6,191.7 544.8,191.7 545.0,191.7 545.0,194.3 544.8,194.3 544.6,194.3 544.4,194.3 544.2,194.3 544.0,194.3 543.8,194.3 543.5,194.3 543.3,194.3 543.1,194.3 542.9,194.3 542.7,194.3 542.5,194.3 542.3,194.3 542.1,194.3 541.9,194.3 541.7,194.3 541.5,194.3 541.2,194.3 541.0,194.2 540.8,194.0 540.6,193.9 540.4,193.7 540.2,193.4 540.0,193.0" fill="#8AEEFC"/>
<polyline points="540.0,193.0 540.2,192.6 540.4,192.3 540.6,192.1 540.8,192.0 541.0,191.8 541.2,191.7 541.5,191.7 541.7,191.7 541.9,191.7 542.1,191.7 542.3,191.7 542.5,191.7 542.7,191.7 542.9,191.7 543.1,191.7 543.3,191.7 543.5,191.7 543.8,191.7 544.0,191.7 544.2,191.7 544.4,191.7 544.6,191.7 544.8,191.7 545.0,191.7" fill="none" stroke="#34484b" stroke-width="0.85" stroke-dasharray="4 1.5"/>
<polyline points="540.0,193.0 540.2,193.4 540.4,193.7 540.6,193.9 540.8,194.0 541.0,194.2 541.2,194.3 541.5,194.3 541.7,194.3 541.9,194.3 542.1,194.3 542.3,194.3 542.5,194.3 542.7,194.3 542.9,194.3 543.1,194.3 543.3,194.3 543.5,194.3 543.8,194.3 544.0,194.3 544.2,194.3 544.4,194.3 544.6,194.3 544.8,194.3 545.0,194.3" fill="none" stroke="#34484b" stroke-width="0.85" stroke-dasharray="5 1.5"/>
<polygon points="400.0,207.2 402.5,206.8 405.0,206.6 407.5,206.4 410.0,206.3 412.5,206.2 415.0,206.2 417.5,206.2 420.0,206.2 422.5,206.2 425.0,206.2 427.5,206.2 430.0,206.2 432.5,206.2 435.0,206.2 437.5,206.2 440.0,206.2 442.5,206.2 445.0,206.2 447.5,206.2 450.0,206.3 452.5,206.4 455.0,206.6 457.5,206.8 460.0,207.2 460.0,207.2 457.5,207.6 455.0,207.8 452.5,208.0 450.0,208.1 447.5,208.2 445.0,208.2 442.5,208.2 440.0,208.2 437.5,208.2 435.0,208.2 432.5,208.2 430.0,208.2 427.5,208.2 425.0,208.2 422.5,208.2 420.0,208.2 417.5,208.2 415.0,208.2 412.5,208.2 410.0,208.1 407.5,208.0 405.0,207.8 402.5,207.6 400.0,207.2" fill="#8AEEFC"/>
<polyline points="400.0,207.2 402.5,206.8 405.0,206.6 407.5,206.4 410.0,206.3 412.5,206.2 415.0,206.2 417.5,206.2 420.0,206.2 422.5,206.2 425.0,206.2 427.5,206.2 430.0,206.2 432.5,206.2 435.0,206.2 437.5,206.2 440.0,206.2 442.5,206.2 445.0,206.2 447.5,206.2 450.0,206.3 452.5,206.4 455.0,206.6 457.5,206.8 460.0,207.2" fill="none" stroke="#34484b" stroke-width="0.85" stroke-dasharray="4 1.5"/>
<polyline points="400.0,207.2 402.5,207.6 405.0,207.8 407.5,208.0 410.0,208.1 412.5,208.2 415.0,208.2 417.5,208.2 420.0,208.2 422.5,208.2 425.0,208.2 427.5,208.2 430.0,208.2 432.5,208.2 435.0,208.2 437.5,208.2 440.0,208.2 442.5,208.2 445.0,208.2 447.5,208.2 450.0,208.1 452.5,208.0 455.0,207.8 457.5,207.6 460.0,207.2" fill="none" stroke="#34484b" stroke-width="0.85" stroke-dasharray="5 1.5"/>
<polygon points="443.0,217.6 462.0,209.5 500.0,207.2 543.0,205.5 543.0,208.5 500.0,212.3 470.0,215.5" fill="#8AEEFC"/>
<polygon points="443.0,217.6 462.0,209.5 500.0,207.2 543.0,205.5 543.0,208.5 500.0,212.3 470.0,215.5" fill="none" stroke="#34484b" stroke-width="0.85" stroke-dasharray="4 1.5"/>
<polygon points="408.0,223.8 413.3,223.3 418.7,223.1 424.0,222.9 429.3,222.8 434.7,222.7 440.0,222.7 445.3,222.6 450.7,222.6 456.0,222.6 461.3,222.6 466.7,222.6 472.0,222.6 477.3,222.5 482.7,222.5 488.0,222.5 493.3,222.5 498.7,222.5 504.0,222.5 509.3,222.4 514.7,222.5 520.0,222.6 525.3,222.8 530.7,223.0 536.0,223.4 536.0,223.4 530.7,223.9 525.3,224.1 520.0,224.3 514.7,224.4 509.3,224.5 504.0,224.5 498.7,224.6 493.3,224.6 488.0,224.6 482.7,224.6 477.3,224.6 472.0,224.6 466.7,224.7 461.3,224.7 456.0,224.7 450.7,224.7 445.3,224.7 440.0,224.7 434.7,224.7 429.3,224.7 424.0,224.6 418.7,224.4 413.3,224.2 408.0,223.8" fill="#8AEEFC"/>
<polyline points="408.0,223.8 413.3,223.3 418.7,223.1 424.0,222.9 429.3,222.8 434.7,222.7 440.0,222.7 445.3,222.6 450.7,222.6 456.0,222.6 461.3,222.6 466.7,222.6 472.0,222.6 477.3,222.5 482.7,222.5 488.0,222.5 493.3,222.5 498.7,222.5 504.0,222.5 509.3,222.4 514.7,222.5 520.0,222.6 525.3,222.8 530.7,223.0 536.0,223.4" fill="none" stroke="#34484b" stroke-width="0.85" stroke-dasharray="4 1.5"/>
<polyline points="408.0,223.8 413.3,224.2 418.7,224.4 424.0,224.6 429.3,224.7 434.7,224.7 440.0,224.7 445.3,224.7 450.7,224.7 456.0,224.7 461.3,224.7 466.7,224.7 472.0,224.6 477.3,224.6 482.7,224.6 488.0,224.6 493.3,224.6 498.7,224.6 504.0,224.5 509.3,224.5 514.7,224.4 520.0,224.3 525.3,224.1 530.7,223.9 536.0,223.4" fill="none" stroke="#34484b" stroke-width="0.85" stroke-dasharray="5 1.5"/>
<polygon points="540.0,226.0 545.0,225.0 545.0,232.0" fill="#8AEEFC"/>
<polygon points="410.0,241.3 411.7,240.9 413.3,240.7 415.0,240.6 416.7,240.5 418.3,240.4 420.0,240.4 421.7,240.4 423.3,240.4 425.0,240.4 426.7,240.5 428.3,240.5 430.0,240.5 431.7,240.5 433.3,240.5 435.0,240.5 436.7,240.5 438.3,240.5 440.0,240.6 441.7,240.6 443.3,240.7 445.0,240.8 446.7,241.0 448.3,241.2 450.0,241.6 450.0,241.6 448.3,242.0 446.7,242.2 445.0,242.3 443.3,242.4 441.7,242.5 440.0,242.5 438.3,242.5 436.7,242.5 435.0,242.5 433.3,242.4 431.7,242.4 430.0,242.4 428.3,242.4 426.7,242.4 425.0,242.4 423.3,242.4 421.7,242.4 420.0,242.3 418.3,242.3 416.7,242.2 415.0,242.1 413.3,241.9 411.7,241.7 410.0,241.3" fill="#8AEEFC"/>
<polyline points="410.0,241.3 411.7,240.9 413.3,240.7 415.0,240.6 416.7,240.5 418.3,240.4 420.0,240.4 421.7,240.4 423.3,240.4 425.0,240.4 426.7,240.5 428.3,240.5 430.0,240.5 431.7,240.5 433.3,240.5 435.0,240.5 436.7,240.5 438.3,240.5 440.0,240.6 441.7,240.6 443.3,240.7 445.0,240.8 446.7,241.0 448.3,241.2 450.0,241.6" fill="none" stroke="#34484b" stroke-width="0.85" stroke-dasharray="4 1.5"/>
<polyline points="410.0,241.3 411.7,241.7 413.3,241.9 415.0,242.1 416.7,242.2 418.3,242.3 420.0,242.3 421.7,242.4 423.3,242.4 425.0,242.4 426.7,242.4 428.3,242.4 430.0,242.4 431.7,242.4 433.3,242.4 435.0,242.5 436.7,242.5 438.3,242.5 440.0,242.5 441.7,242.5 443.3,242.4 445.0,242.3 446.7,242.2 448.3,242.0 450.0,241.6" fill="none" stroke="#34484b" stroke-width="0.85" stroke-dasharray="5 1.5"/>
<polygon points="478.0,247.6 479.2,246.8 480.5,246.4 481.8,246.1 483.0,245.9 484.2,245.7 485.5,245.7 486.8,245.7 488.0,245.7 489.2,245.7 490.5,245.7 491.8,245.7 493.0,245.7 494.2,245.7 495.5,245.7 496.8,245.7 498.0,245.7 499.2,245.7 500.5,245.7 501.8,245.7 503.0,245.9 504.2,246.1 505.5,246.4 506.8,246.8 508.0,247.6 508.0,247.6 506.8,248.4 505.5,248.8 504.2,249.1 503.0,249.3 501.8,249.5 500.5,249.5 499.2,249.5 498.0,249.5 496.8,249.5 495.5,249.5 494.2,249.5 493.0,249.5 491.8,249.5 490.5,249.5 489.2,249.5 488.0,249.5 486.8,249.5 485.5,249.5 484.2,249.5 483.0,249.3 481.8,249.1 480.5,248.8 479.2,248.4 478.0,247.6" fill="#8AEEFC"/>
<polyline points="478.0,247.6 479.2,246.8 480.5,246.4 481.8,246.1 483.0,245.9 484.2,245.7 485.5,245.7 486.8,245.7 488.0,245.7 489.2,245.7 490.5,245.7 491.8,245.7 493.0,245.7 494.2,245.7 495.5,245.7 496.8,245.7 498.0,245.7 499.2,245.7 500.5,245.7 501.8,245.7 503.0,245.9 504.2,246.1 505.5,246.4 506.8,246.8 508.0,247.6" fill="none" stroke="#34484b" stroke-width="0.85" stroke-dasharray="4 1.5"/>
<polyline points="478.0,247.6 479.2,248.4 480.5,248.8 481.8,249.1 483.0,249.3 484.2,249.5 485.5,249.5 486.8,249.5 488.0,249.5 489.2,249.5 490.5,249.5 491.8,249.5 493.0,249.5 494.2,249.5 495.5,249.5 496.8,249.5 498.0,249.5 499.2,249.5 500.5,249.5 501.8,249.5 503.0,249.3 504.2,249.1 505.5,248.8 506.8,248.4 508.0,247.6" fill="none" stroke="#34484b" stroke-width="0.85" stroke-dasharray="5 1.5"/>
<polyline points="488.0,249.8 533.0,249.8" fill="none" stroke="#8AEEFC" stroke-width="2.0"/>
<polyline points="488.0,250.4 533.0,250.4" fill="none" stroke="#34484b" stroke-width="0.85" stroke-dasharray="5 2"/>
<polyline points="471.0,253.0 500.0,253.0" fill="none" stroke="#8AEEFC" stroke-width="1.0"/>
<polyline points="471.0,253.6 500.0,253.6" fill="none" stroke="#34484b" stroke-width="0.85" stroke-dasharray="5 2"/>
<polygon points="465.0,278.0 505.0,278.0 544.0,266.5 544.0,272.7 520.0,276.0 495.0,281.0 465.0,281.0" fill="#8AEEFC"/>
<polygon points="465.0,278.0 505.0,278.0 544.0,266.5 544.0,272.7 520.0,276.0 495.0,281.0 465.0,281.0" fill="none" stroke="#34484b" stroke-width="0.85" stroke-dasharray="4 1.5"/>
<polyline points="473.0,268.4 505.0,268.4 518.0,265.0" fill="none" stroke="#8AEEFC" stroke-width="1.0"/>
<polyline points="473.0,269.0 505.0,269.0 518.0,265.6" fill="none" stroke="#34484b" stroke-width="0.85" stroke-dasharray="5 2"/>
<path d="M64.0,64.6 C71.7,64.9 94.8,65.7 110.0,66.4 C125.2,67.1 126.7,67.4 155.0,68.6 C183.3,69.8 239.2,71.8 280.0,73.4 C320.8,75.0 370.0,77.2 400.0,78.2 C430.0,79.2 444.2,79.6 460.0,79.5 C475.8,79.4 484.2,77.8 495.0,77.5 C505.8,77.2 517.5,77.6 525.0,78.0 C532.5,78.4 537.5,79.7 540.0,80.0" fill="none" stroke="#E8262B" stroke-width="1.3" stroke-dasharray="10 2.2 1.3 2.2"/>
<path d="M29.0,137.2 C50.0,139.7 113.2,148.4 155.0,152.0 C196.8,155.6 249.2,158.0 280.0,158.8 C310.8,159.6 319.2,157.6 340.0,157.0 C360.8,156.4 388.3,155.7 405.0,155.0 C421.7,154.3 429.2,153.7 440.0,153.0 C450.8,152.3 460.8,151.8 470.0,150.9 C479.2,150.0 488.3,148.2 495.0,147.5 C501.7,146.8 504.2,146.6 510.0,146.5 C515.8,146.4 524.2,146.8 530.0,147.0 C535.8,147.2 542.5,147.8 545.0,148.0" fill="none" stroke="#E8262B" stroke-width="1.3" stroke-dasharray="10 2.2 1.3 2.2"/>
<path d="M29.0,261.3 C32.8,262.4 43.6,265.6 52.0,268.2 C60.4,270.8 70.4,274.7 79.5,277.2 C88.6,279.7 97.6,281.3 106.7,283.1 C115.8,284.9 125.0,286.7 134.0,288.0 C143.1,289.3 154.2,290.2 161.0,290.8 C167.8,291.4 161.8,291.3 175.0,291.9 C188.2,292.5 219.2,293.7 240.0,294.2 C260.8,294.7 280.0,295.3 300.0,294.8 C320.0,294.3 340.0,292.6 360.0,291.3 C380.0,290.0 402.5,288.9 420.0,287.2 C437.5,285.5 452.5,282.0 465.0,281.0 C477.5,280.0 485.8,281.8 495.0,281.0 C504.2,280.2 511.8,277.4 520.0,276.0 C528.2,274.6 540.0,273.2 544.0,272.7" fill="none" stroke="#E8262B" stroke-width="1.3" stroke-dasharray="10 2.2 1.3 2.2"/>
<line x1="164.5" y1="42.5" x2="164.5" y2="226.4" stroke="#111" stroke-width="1.25"/>
<line x1="294.8" y1="43.7" x2="294.0" y2="264.6" stroke="#1a1a1a" stroke-width="1.25"/>
<line x1="430.3" y1="43.2" x2="428.5" y2="259.3" stroke="#111" stroke-width="1.25"/>
<line x1="493.3" y1="43.2" x2="492.2" y2="313.8" stroke="#222" stroke-width="1.25"/>
<line x1="164.5" y1="42.5" x2="164.5" y2="49.2" stroke="#555" stroke-width="1.25"/>
<line x1="294.7" y1="43.7" x2="294.7" y2="50.8" stroke="#555" stroke-width="1.25"/>
<line x1="430.2" y1="43.2" x2="430.2" y2="52.3" stroke="#555" stroke-width="1.25"/>
<line x1="493.2" y1="43.2" x2="493.2" y2="52.5" stroke="#555" stroke-width="1.25"/>
<line x1="492.6" y1="255" x2="492.2" y2="313.8" stroke="#555" stroke-width="1.3"/>
<line x1="156.8" y1="226.4" x2="171" y2="226.4" stroke="#111" stroke-width="0.9"/>
<line x1="421.2" y1="259.3" x2="434.7" y2="259.3" stroke="#222" stroke-width="0.9"/>
<line x1="484.2" y1="313.8" x2="498.6" y2="313.8" stroke="#777" stroke-width="1.1"/>
<polyline points="29,52 45,52" stroke="#bbb" stroke-width="0.8" fill="none"/>
<polyline points="52,52 94,52" stroke="#bbb" stroke-width="0.8" fill="none"/>
<polyline points="122,51.5 168,50.8" stroke="#bbb" stroke-width="0.8" fill="none"/>
<polyline points="29.0,47.2 130.0,49.5 165.0,50.0 260.0,50.5 295.0,51.0 400.0,52.5 544.0,53.0" fill="none" stroke="#333" stroke-width="1"/>
<path d="M184,51 C188,50 192,49.4 196,49.8 S203,49.9 205,49.6 Q207,47 209,49.5 Q211,52.6 212.5,50.5 Q214,47 216.5,50.2" fill="none" stroke="#333" stroke-width="0.8"/>
<path d="M331,50.8 l2.3,-1.8 l2.3,1.8" fill="none" stroke="#444" stroke-width="0.7"/>
<rect x="26" y="17.10" width="2.1" height="17.70" fill="#000"/>
<rect x="26.3" y="34.80" width="2" height="17.70" fill="#dedede"/>
<rect x="26" y="52.50" width="2.1" height="17.70" fill="#000"/>
<rect x="26.3" y="70.20" width="2" height="17.70" fill="#dedede"/>
<rect x="26" y="87.90" width="2.1" height="17.70" fill="#000"/>
<rect x="26.3" y="105.60" width="2" height="17.70" fill="#dedede"/>
<rect x="26" y="123.30" width="2.1" height="17.70" fill="#000"/>
<rect x="26.3" y="141.00" width="2" height="17.70" fill="#dedede"/>
<rect x="26" y="158.70" width="2.1" height="17.70" fill="#000"/>
<rect x="26.3" y="176.40" width="2" height="17.70" fill="#dedede"/>
<rect x="26" y="194.10" width="2.1" height="17.70" fill="#000"/>
<rect x="26.3" y="211.80" width="2" height="17.70" fill="#dedede"/>
<rect x="26" y="229.50" width="2.1" height="17.70" fill="#000"/>
<rect x="26.3" y="247.20" width="2" height="17.70" fill="#dedede"/>
<rect x="26" y="264.90" width="2.1" height="17.70" fill="#000"/>
<rect x="26.3" y="282.60" width="2" height="17.70" fill="#dedede"/>
<rect x="26" y="300.30" width="2.1" height="17.70" fill="#000"/>
<rect x="26.3" y="318.00" width="2" height="17.70" fill="#dedede"/>
<rect x="26" y="335.70" width="2.1" height="17.70" fill="#000"/>
<text x="9.3" y="10.7" font-size="8.5" textLength="32.2" lengthAdjust="spacingAndGlyphs" >Elevation</text>
<text x="8" y="20.6" font-size="8.5" textLength="8" lengthAdjust="spacingAndGlyphs" >60</text>
<text x="4.5" y="28" font-size="8.5" textLength="2.8" lengthAdjust="spacingAndGlyphs" >(</text>
<text x="9.3" y="27.5" font-size="8.5" textLength="5.5" lengthAdjust="spacingAndGlyphs" >m</text>
<text x="15.3" y="28" font-size="8.5" textLength="2.8" lengthAdjust="spacingAndGlyphs" >)</text>
<text x="7.2" y="53.8" font-size="8.5" textLength="4.6" lengthAdjust="spacingAndGlyphs" >0</text>
<text x="5.0" y="89.30000000000001" font-size="8.5" textLength="13.700000000000001" lengthAdjust="spacingAndGlyphs" >−60</text>
<text x="5.0" y="124.7" font-size="8.5" textLength="18.1" lengthAdjust="spacingAndGlyphs" >−120</text>
<text x="5.0" y="160.1" font-size="8.5" textLength="18.1" lengthAdjust="spacingAndGlyphs" >−180</text>
<text x="5.0" y="195.5" font-size="8.5" textLength="18.1" lengthAdjust="spacingAndGlyphs" >−240</text>
<text x="5.0" y="230.9" font-size="8.5" textLength="18.1" lengthAdjust="spacingAndGlyphs" >−300</text>
<text x="5.0" y="266.29999999999995" font-size="8.5" textLength="18.1" lengthAdjust="spacingAndGlyphs" >−360</text>
<text x="5.0" y="301.7" font-size="8.5" textLength="18.1" lengthAdjust="spacingAndGlyphs" >−420</text>
<text x="5.0" y="337.09999999999997" font-size="8.5" textLength="18.1" lengthAdjust="spacingAndGlyphs" >−450</text>
<text x="66.1" y="61.5" font-size="10.4" textLength="31.8" lengthAdjust="spacingAndGlyphs" >Aquifer</text>
<text x="102.8" y="61.5" font-size="10.4" textLength="3.6" lengthAdjust="spacingAndGlyphs" >I</text>
<text x="66.6" y="105.4" font-size="10.4" textLength="31.3" lengthAdjust="spacingAndGlyphs" >Aquifer</text>
<text x="103.4" y="105.4" font-size="10.4" textLength="6" lengthAdjust="spacingAndGlyphs" >II</text>
<text x="67.2" y="193.9" font-size="10.4" textLength="31.8" lengthAdjust="spacingAndGlyphs" >Aquifer</text>
<text x="104" y="193.9" font-size="10.4" textLength="10.2" lengthAdjust="spacingAndGlyphs" font-weight="bold">III</text>
<text x="65.8" y="296.9" font-size="10.4" textLength="31.0" lengthAdjust="spacingAndGlyphs" >Aquifer</text>
<text x="101.8" y="296.9" font-size="10.4" textLength="10.7" lengthAdjust="spacingAndGlyphs" >IV</text>
<text x="143.6" y="33.8" font-size="10.4" textLength="35.3" lengthAdjust="spacingAndGlyphs" >Borehole</text>
<text x="186" y="33.8" font-size="10.4" textLength="3.4" lengthAdjust="spacingAndGlyphs" >1</text>
<text x="273.9" y="34.5" font-size="10.4" textLength="35.2" lengthAdjust="spacingAndGlyphs" >Borehole</text>
<text x="315.6" y="34.5" font-size="10.4" textLength="5.2" lengthAdjust="spacingAndGlyphs" >2</text>
<text x="410.8" y="34.9" font-size="10.4" textLength="35.6" lengthAdjust="spacingAndGlyphs" >Borehole</text>
<text x="452.2" y="34.9" font-size="10.4" textLength="4.4" lengthAdjust="spacingAndGlyphs" >3</text>
<text x="472.2" y="34.9" font-size="10.4" textLength="35.5" lengthAdjust="spacingAndGlyphs" >Borehole</text>
<text x="514.1" y="34.9" font-size="10.4" textLength="4.8" lengthAdjust="spacingAndGlyphs" >4</text>
<text x="185.4" y="44.7" font-size="10" textLength="35" lengthAdjust="spacingAndGlyphs" >Mangniu</text>
<text x="225.1" y="44.7" font-size="10" textLength="24.3" lengthAdjust="spacingAndGlyphs" >River</text>
<text x="309.9" y="44.9" font-size="10" textLength="41.8" lengthAdjust="spacingAndGlyphs" >Zhongting</text>
<text x="356.4" y="44.9" font-size="10" textLength="23" lengthAdjust="spacingAndGlyphs" >River</text>
<text x="154.7" y="233.7" font-size="8.2" textLength="20.9" lengthAdjust="spacingAndGlyphs" >301.01</text>
<text x="285" y="271.5" font-size="7.8" textLength="21.2" lengthAdjust="spacingAndGlyphs" font-style="italic">362.56</text>
<text x="418.2" y="265.8" font-size="7.8" textLength="21.8" lengthAdjust="spacingAndGlyphs" >351.34</text>
<text x="478" y="309.6" font-size="7.8" textLength="21.8" lengthAdjust="spacingAndGlyphs" >442.10</text>
<text x="187.2" y="323.8" font-size="11.5" textLength="35" lengthAdjust="spacingAndGlyphs" >Legend</text>
<rect x="75.8" y="331.8" width="17.2" height="10.6" fill="#fff" stroke="#999" stroke-width="0.8"/>
<text x="83.8" y="339.8" font-size="6.8" textLength="2.4" lengthAdjust="spacingAndGlyphs" class="sm" fill="#777" style="stroke-width:0">I</text>
<text x="97.6" y="339.5" font-size="6.5" textLength="20.4" lengthAdjust="spacingAndGlyphs" class="sm" >Aquifer</text>
<text x="122" y="339.5" font-size="6.5" textLength="1.8" lengthAdjust="spacingAndGlyphs" class="sm" >I</text>
<polyline points="147.3,332.4 147.3,344 164.6,344 164.6,332.4" fill="none" stroke="#aaa" stroke-width="0.8"/>
<text x="153.4" y="341.3" font-size="6.8" textLength="4.5" lengthAdjust="spacingAndGlyphs" class="sm" fill="#777" style="stroke-width:0">II</text>
<text x="168.6" y="340.9" font-size="6.5" textLength="21.5" lengthAdjust="spacingAndGlyphs" class="sm" >Aquifer</text>
<text x="193.2" y="340.9" font-size="6.5" textLength="4.6" lengthAdjust="spacingAndGlyphs" class="sm" >II</text>
<polyline points="75.8,364 75.8,351.6 93.3,351.6" fill="none" stroke="#888" stroke-width="0.8"/>
<text x="82.2" y="360.8" font-size="7.2" textLength="5.8" lengthAdjust="spacingAndGlyphs" font-weight="bold" fill="#333" style="stroke-width:0">III</text>
<text x="98.6" y="360.7" font-size="6.5" textLength="20.5" lengthAdjust="spacingAndGlyphs" class="sm" >Aquifer</text>
<text x="122.6" y="360.7" font-size="6.5" textLength="6.2" lengthAdjust="spacingAndGlyphs" class="sm" >III</text>
<rect x="146.8" y="350.8" width="17.8" height="12.3" fill="#fff" stroke="#999" stroke-width="0.8"/>
<text x="152.8" y="360.8" font-size="6.8" textLength="5.8" lengthAdjust="spacingAndGlyphs" class="sm" fill="#666" style="stroke-width:0">IV</text>
<text x="169.2" y="359.1" font-size="6.5" textLength="21" lengthAdjust="spacingAndGlyphs" class="sm" >Aquifer</text>
<text x="193.2" y="359.1" font-size="6.5" textLength="6.8" lengthAdjust="spacingAndGlyphs" class="sm" >IV</text>
<polyline points="220.5,342.5 220.5,332.3 238.1,332.3" fill="none" stroke="#999" stroke-width="0.8"/>
<text x="222.4" y="342" font-size="5" textLength="2.8" lengthAdjust="spacingAndGlyphs" class="sm" fill="#666">II</text>
<text x="233.6" y="337" font-size="5" textLength="1.6" lengthAdjust="spacingAndGlyphs" class="sm" fill="#555">I</text>
<line x1="220.3" y1="333" x2="238.2" y2="344.7" stroke="#E8262B" stroke-width="1.9" stroke-dasharray="9 2 2 2"/>
<text x="243" y="340.8" font-size="6.5" textLength="24.5" lengthAdjust="spacingAndGlyphs" class="sm" >Boundary</text>
<text x="270.2" y="340.8" font-size="6.5" textLength="5.4" lengthAdjust="spacingAndGlyphs" class="sm" >of</text>
<text x="278.5" y="340.8" font-size="6.5" textLength="26" lengthAdjust="spacingAndGlyphs" class="sm" >aquifert</text>
<rect x="220.4" y="349.3" width="17.9" height="13.1" fill="#FEFEDE"/>
<line x1="220.4" y1="349.5" x2="238.3" y2="349.5" stroke="#ddd" stroke-width="0.8"/>
<text x="243.3" y="358" font-size="6.5" textLength="9.6" lengthAdjust="spacingAndGlyphs" class="sm" >Silt</text>
<text x="256" y="358" font-size="6.5" textLength="9.6" lengthAdjust="spacingAndGlyphs" class="sm" >and</text>
<text x="268.5" y="358" font-size="6.5" textLength="14.2" lengthAdjust="spacingAndGlyphs" class="sm" >Clay</text>
<rect x="291.3" y="350.4" width="18.6" height="12" fill="#8AEEFC"/>
<polyline points="291.3,362.4 309.9,362.4 309.9,350.4" fill="none" stroke="#8ab" stroke-width="0.8"/>
<text x="314.3" y="358" font-size="6.5" textLength="13.1" lengthAdjust="spacingAndGlyphs" class="sm" >Sand</text>
</svg>
</body></html>
